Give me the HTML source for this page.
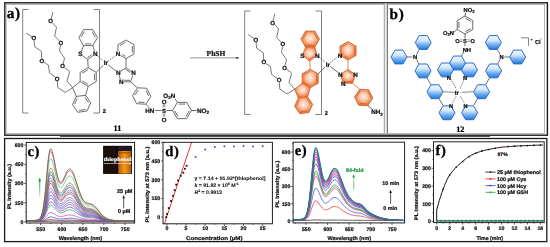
<!DOCTYPE html><html><head><meta charset="utf-8"><title>figure</title><style>html,body{margin:0;padding:0;background:#fff}svg{display:block}</style></head><body><svg width="550" height="247" viewBox="0 0 550 247" text-rendering="geometricPrecision">
<defs>
<radialGradient id="og" cx="50%" cy="45%" r="60%">
<stop offset="0" stop-color="#fdeee5"/><stop offset="0.4" stop-color="#f9c6aa"/><stop offset="0.8" stop-color="#f07a3c"/><stop offset="1" stop-color="#ea5e1c"/>
</radialGradient>
<linearGradient id="bg" x1="0" y1="0" x2="0" y2="1">
<stop offset="0" stop-color="#f0f7ff"/><stop offset="0.35" stop-color="#d6e8fb"/><stop offset="0.7" stop-color="#66a8ee"/><stop offset="1" stop-color="#2079e0"/>
</linearGradient>
<linearGradient id="ga" x1="0" y1="0" x2="0" y2="1">
<stop offset="0" stop-color="#3cb85a"/><stop offset="1" stop-color="#c8f0d0"/>
</linearGradient>
<linearGradient id="vial" x1="0" y1="0" x2="1" y2="0">
<stop offset="0" stop-color="#b85a08"/><stop offset="0.5" stop-color="#f59a18"/><stop offset="1" stop-color="#b85a08"/>
</linearGradient>
</defs>
<rect x="0" y="0" width="550" height="247" fill="#ffffff" stroke="none" stroke-width="1"/>
<rect x="4.8" y="2.8" width="542.6" height="132.4" fill="none" stroke="#1a1a1a" stroke-width="1.4"/>
<rect x="6.2" y="4.5" width="538.3" height="128.9" fill="none" stroke="#a4a4a4" stroke-width="0.8"/>
<line x1="60" y1="136.4" x2="490" y2="136.4" stroke="#3a3a3a" stroke-width="1" stroke-linecap="butt"/>
<rect x="4.6" y="138.5" width="542.2" height="103.1" fill="none" stroke="#1a1a1a" stroke-width="1.3"/>
<rect x="384.3" y="3.8" width="3.1" height="129.6" fill="#ececec" stroke="none" stroke-width="1"/>
<line x1="384.3" y1="3.8" x2="384.3" y2="133.4" stroke="#a0a0a0" stroke-width="1" stroke-linecap="butt"/>
<line x1="387.4" y1="3.8" x2="387.4" y2="133.4" stroke="#7a7a7a" stroke-width="1.2" stroke-linecap="butt"/>
<text x="6.8" y="18.1" font-family="Liberation Serif, Times New Roman, serif" font-size="15.2" font-weight="bold" text-anchor="start" fill="#000" letter-spacing="0.6" stroke="#000" stroke-width="0.3">a)</text>
<text x="389.6" y="18.5" font-family="Liberation Serif, Times New Roman, serif" font-size="15.2" font-weight="bold" text-anchor="start" fill="#000" letter-spacing="0.6" stroke="#000" stroke-width="0.3">b)</text>
<g transform="translate(0,0)">
<line x1="97.5" y1="37.6" x2="92.85" y2="45.65" stroke="#303030" stroke-width="0.7" stroke-linecap="butt"/>
<line x1="92.85" y1="45.65" x2="83.55" y2="45.65" stroke="#303030" stroke-width="0.7" stroke-linecap="butt"/>
<line x1="83.55" y1="45.65" x2="78.9" y2="37.6" stroke="#303030" stroke-width="0.7" stroke-linecap="butt"/>
<line x1="78.9" y1="37.6" x2="83.55" y2="29.55" stroke="#303030" stroke-width="0.7" stroke-linecap="butt"/>
<line x1="83.55" y1="29.55" x2="92.85" y2="29.55" stroke="#303030" stroke-width="0.7" stroke-linecap="butt"/>
<line x1="92.85" y1="29.55" x2="97.5" y2="37.6" stroke="#303030" stroke-width="0.7" stroke-linecap="butt"/>
<line x1="81.07" y1="37.24" x2="84.32" y2="31.61" stroke="#303030" stroke-width="0.7" stroke-linecap="butt"/>
<line x1="92.08" y1="31.61" x2="95.33" y2="37.24" stroke="#303030" stroke-width="0.7" stroke-linecap="butt"/>
<line x1="91.45" y1="43.95" x2="84.95" y2="43.95" stroke="#303030" stroke-width="0.7" stroke-linecap="butt"/>
<line x1="83.55" y1="45.65" x2="81.25" y2="51.48" stroke="#303030" stroke-width="0.7" stroke-linecap="butt"/>
<line x1="92.85" y1="45.65" x2="94.56" y2="51.41" stroke="#303030" stroke-width="0.7" stroke-linecap="butt"/>
<line x1="82.52" y1="55.61" x2="87.7" y2="59.6" stroke="#303030" stroke-width="0.7" stroke-linecap="butt"/>
<line x1="93.06" y1="55.58" x2="87.7" y2="59.6" stroke="#303030" stroke-width="0.7" stroke-linecap="butt"/>
<line x1="91.62" y1="54.66" x2="87.38" y2="57.84" stroke="#303030" stroke-width="0.7" stroke-linecap="butt"/>
<line x1="88.2" y1="67.7" x2="96.25" y2="72.35" stroke="#303030" stroke-width="0.7" stroke-linecap="butt"/>
<line x1="96.25" y1="72.35" x2="96.25" y2="81.65" stroke="#303030" stroke-width="0.7" stroke-linecap="butt"/>
<line x1="96.25" y1="81.65" x2="88.2" y2="86.3" stroke="#303030" stroke-width="0.7" stroke-linecap="butt"/>
<line x1="88.2" y1="86.3" x2="80.15" y2="81.65" stroke="#303030" stroke-width="0.7" stroke-linecap="butt"/>
<line x1="80.15" y1="81.65" x2="80.15" y2="72.35" stroke="#303030" stroke-width="0.7" stroke-linecap="butt"/>
<line x1="80.15" y1="72.35" x2="88.2" y2="67.7" stroke="#303030" stroke-width="0.7" stroke-linecap="butt"/>
<line x1="82.21" y1="73.12" x2="87.84" y2="69.87" stroke="#303030" stroke-width="0.7" stroke-linecap="butt"/>
<line x1="94.55" y1="73.75" x2="94.55" y2="80.25" stroke="#303030" stroke-width="0.7" stroke-linecap="butt"/>
<line x1="87.84" y1="84.13" x2="82.21" y2="80.88" stroke="#303030" stroke-width="0.7" stroke-linecap="butt"/>
<line x1="85.6" y1="95.3" x2="90.7" y2="102.8" stroke="#303030" stroke-width="0.7" stroke-linecap="butt"/>
<line x1="90.7" y1="102.8" x2="87" y2="111" stroke="#303030" stroke-width="0.7" stroke-linecap="butt"/>
<line x1="87" y1="111" x2="77.8" y2="112.3" stroke="#303030" stroke-width="0.7" stroke-linecap="butt"/>
<line x1="77.8" y1="112.3" x2="72.5" y2="104.7" stroke="#303030" stroke-width="0.7" stroke-linecap="butt"/>
<line x1="72.5" y1="104.7" x2="76.3" y2="96.4" stroke="#303030" stroke-width="0.7" stroke-linecap="butt"/>
<line x1="76.3" y1="96.4" x2="85.6" y2="95.3" stroke="#303030" stroke-width="0.7" stroke-linecap="butt"/>
<line x1="84.98" y1="97.41" x2="88.51" y2="102.6" stroke="#303030" stroke-width="0.7" stroke-linecap="butt"/>
<line x1="85.38" y1="109.51" x2="78.95" y2="110.42" stroke="#303030" stroke-width="0.7" stroke-linecap="butt"/>
<line x1="74.63" y1="104.13" x2="77.26" y2="98.38" stroke="#303030" stroke-width="0.7" stroke-linecap="butt"/>
<line x1="88.2" y1="86.3" x2="85.6" y2="95.3" stroke="#303030" stroke-width="0.7" stroke-linecap="butt"/>
<line x1="76.3" y1="96.4" x2="72.6" y2="87.7" stroke="#303030" stroke-width="0.7" stroke-linecap="butt"/>
<line x1="72.6" y1="87.7" x2="80.15" y2="81.65" stroke="#303030" stroke-width="0.7" stroke-linecap="butt"/>
<line x1="87.7" y1="59.6" x2="88.2" y2="67.7" stroke="#303030" stroke-width="0.7" stroke-linecap="butt"/>
<line x1="72.6" y1="87.7" x2="65.2" y2="92.4" stroke="#303030" stroke-width="0.65" stroke-linecap="butt"/>
<line x1="65.2" y1="92.4" x2="57.8" y2="87.6" stroke="#303030" stroke-width="0.65" stroke-linecap="butt"/>
<line x1="57.8" y1="87.6" x2="57.35" y2="80.99" stroke="#303030" stroke-width="0.65" stroke-linecap="butt"/>
<line x1="55.38" y1="77.29" x2="49.6" y2="72.8" stroke="#303030" stroke-width="0.65" stroke-linecap="butt"/>
<line x1="49.6" y1="72.8" x2="48.3" y2="65" stroke="#303030" stroke-width="0.65" stroke-linecap="butt"/>
<line x1="48.3" y1="65" x2="43.72" y2="61.97" stroke="#303030" stroke-width="0.65" stroke-linecap="butt"/>
<line x1="41.7" y1="58.4" x2="41.4" y2="51.4" stroke="#303030" stroke-width="0.65" stroke-linecap="butt"/>
<line x1="41.4" y1="51.4" x2="34.6" y2="46.6" stroke="#303030" stroke-width="0.65" stroke-linecap="butt"/>
<line x1="34.6" y1="46.6" x2="34.09" y2="40.39" stroke="#303030" stroke-width="0.65" stroke-linecap="butt"/>
<line x1="31.97" y1="36.85" x2="26.2" y2="33.1" stroke="#303030" stroke-width="0.65" stroke-linecap="butt"/>
<text x="57.2" y="80.86" font-family="Liberation Sans, Arial, sans-serif" font-size="6" font-weight="bold" text-anchor="middle" fill="#111" stroke="#111" stroke-width="0.22">O</text>
<text x="41.8" y="62.86" font-family="Liberation Sans, Arial, sans-serif" font-size="6" font-weight="bold" text-anchor="middle" fill="#111" stroke="#111" stroke-width="0.22">O</text>
<text x="33.9" y="40.26" font-family="Liberation Sans, Arial, sans-serif" font-size="6" font-weight="bold" text-anchor="middle" fill="#111" stroke="#111" stroke-width="0.22">O</text>
<line x1="72.6" y1="87.7" x2="67" y2="81" stroke="#303030" stroke-width="0.65" stroke-linecap="butt"/>
<line x1="67" y1="81" x2="69.7" y2="71.6" stroke="#303030" stroke-width="0.65" stroke-linecap="butt"/>
<line x1="69.7" y1="71.6" x2="64.43" y2="67.59" stroke="#303030" stroke-width="0.65" stroke-linecap="butt"/>
<line x1="63.13" y1="63.96" x2="64.5" y2="58.1" stroke="#303030" stroke-width="0.65" stroke-linecap="butt"/>
<line x1="64.5" y1="58.1" x2="59.5" y2="51" stroke="#303030" stroke-width="0.65" stroke-linecap="butt"/>
<line x1="59.5" y1="51" x2="60.53" y2="44.77" stroke="#303030" stroke-width="0.65" stroke-linecap="butt"/>
<line x1="59.3" y1="40.85" x2="54.7" y2="36.1" stroke="#303030" stroke-width="0.65" stroke-linecap="butt"/>
<line x1="54.7" y1="36.1" x2="56.5" y2="27.2" stroke="#303030" stroke-width="0.65" stroke-linecap="butt"/>
<line x1="56.5" y1="27.2" x2="52.19" y2="22.67" stroke="#303030" stroke-width="0.65" stroke-linecap="butt"/>
<line x1="51.18" y1="18.77" x2="52.9" y2="12.1" stroke="#303030" stroke-width="0.65" stroke-linecap="butt"/>
<text x="62.6" y="68.36" font-family="Liberation Sans, Arial, sans-serif" font-size="6" font-weight="bold" text-anchor="middle" fill="#111" stroke="#111" stroke-width="0.22">O</text>
<text x="60.9" y="44.66" font-family="Liberation Sans, Arial, sans-serif" font-size="6" font-weight="bold" text-anchor="middle" fill="#111" stroke="#111" stroke-width="0.22">O</text>
<text x="50.6" y="23.16" font-family="Liberation Sans, Arial, sans-serif" font-size="6" font-weight="bold" text-anchor="middle" fill="#111" stroke="#111" stroke-width="0.22">O</text>
<line x1="97.57" y1="55.86" x2="103.18" y2="60.71" stroke="#303030" stroke-width="0.7" stroke-dasharray="1.3,0.9" stroke-linecap="butt"/>
<line x1="96.25" y1="72.35" x2="103.08" y2="65.37" stroke="#303030" stroke-width="0.7" stroke-linecap="butt"/>
<line x1="126" y1="40" x2="134.05" y2="44.65" stroke="#303030" stroke-width="0.7" stroke-linecap="butt"/>
<line x1="134.05" y1="44.65" x2="134.05" y2="53.95" stroke="#303030" stroke-width="0.7" stroke-linecap="butt"/>
<line x1="134.05" y1="53.95" x2="126" y2="58.6" stroke="#303030" stroke-width="0.7" stroke-linecap="butt"/>
<line x1="126" y1="58.6" x2="120.28" y2="55.3" stroke="#303030" stroke-width="0.7" stroke-linecap="butt"/>
<line x1="117.95" y1="51.25" x2="117.95" y2="44.65" stroke="#303030" stroke-width="0.7" stroke-linecap="butt"/>
<line x1="117.95" y1="44.65" x2="126" y2="40" stroke="#303030" stroke-width="0.7" stroke-linecap="butt"/>
<line x1="120.01" y1="45.42" x2="125.64" y2="42.17" stroke="#303030" stroke-width="0.7" stroke-linecap="butt"/>
<line x1="132.35" y1="46.05" x2="132.35" y2="52.55" stroke="#303030" stroke-width="0.7" stroke-linecap="butt"/>
<line x1="125.64" y1="56.43" x2="122.35" y2="54.53" stroke="#303030" stroke-width="0.7" stroke-linecap="butt"/>
<line x1="108.2" y1="60.94" x2="115.51" y2="55.7" stroke="#303030" stroke-width="0.7" stroke-dasharray="1.3,0.9" stroke-linecap="butt"/>
<line x1="126" y1="67.9" x2="131.44" y2="71.55" stroke="#303030" stroke-width="0.7" stroke-linecap="butt"/>
<line x1="132.76" y1="75.46" x2="130.6" y2="81.8" stroke="#303030" stroke-width="0.7" stroke-linecap="butt"/>
<line x1="130.6" y1="81.8" x2="123.8" y2="81.8" stroke="#303030" stroke-width="0.7" stroke-linecap="butt"/>
<line x1="120.4" y1="79.33" x2="119.1" y2="75.27" stroke="#303030" stroke-width="0.7" stroke-linecap="butt"/>
<line x1="120.49" y1="71.4" x2="126" y2="67.9" stroke="#303030" stroke-width="0.7" stroke-linecap="butt"/>
<line x1="125.66" y1="69.48" x2="130.11" y2="72.46" stroke="#303030" stroke-width="0.7" stroke-linecap="butt"/>
<line x1="130" y1="80.3" x2="124.4" y2="80.3" stroke="#303030" stroke-width="0.7" stroke-linecap="butt"/>
<line x1="126" y1="58.6" x2="126" y2="67.9" stroke="#303030" stroke-width="0.7" stroke-linecap="butt"/>
<line x1="108.27" y1="64.9" x2="116.1" y2="71.07" stroke="#303030" stroke-width="0.7" stroke-linecap="butt"/>
<line x1="150.89" y1="96.48" x2="145.88" y2="104.2" stroke="#303030" stroke-width="0.7" stroke-linecap="butt"/>
<line x1="145.88" y1="104.2" x2="136.69" y2="103.72" stroke="#303030" stroke-width="0.7" stroke-linecap="butt"/>
<line x1="136.69" y1="103.72" x2="132.51" y2="95.52" stroke="#303030" stroke-width="0.7" stroke-linecap="butt"/>
<line x1="132.51" y1="95.52" x2="137.52" y2="87.8" stroke="#303030" stroke-width="0.7" stroke-linecap="butt"/>
<line x1="137.52" y1="87.8" x2="146.71" y2="88.28" stroke="#303030" stroke-width="0.7" stroke-linecap="butt"/>
<line x1="146.71" y1="88.28" x2="150.89" y2="96.48" stroke="#303030" stroke-width="0.7" stroke-linecap="butt"/>
<line x1="145.83" y1="90.3" x2="148.74" y2="96.01" stroke="#303030" stroke-width="0.7" stroke-linecap="butt"/>
<line x1="144.57" y1="102.43" x2="138.18" y2="102.09" stroke="#303030" stroke-width="0.7" stroke-linecap="butt"/>
<line x1="134.7" y1="95.27" x2="138.19" y2="89.9" stroke="#303030" stroke-width="0.7" stroke-linecap="butt"/>
<line x1="130.6" y1="81.8" x2="137.52" y2="87.8" stroke="#303030" stroke-width="0.7" stroke-linecap="butt"/>
<text x="80.3" y="56.17" font-family="Liberation Sans, Arial, sans-serif" font-size="6.3" font-weight="bold" text-anchor="middle" fill="#111" stroke="#111" stroke-width="0.22">S</text>
<text x="95.3" y="56.17" font-family="Liberation Sans, Arial, sans-serif" font-size="6.3" font-weight="bold" text-anchor="middle" fill="#111" stroke="#111" stroke-width="0.22">N</text>
<text x="105.9" y="65.1" font-family="Liberation Sans, Arial, sans-serif" font-size="6.4" font-weight="bold" text-anchor="middle" fill="#111" stroke="#111" stroke-width="0.22">Ir</text>
<text x="117.95" y="56.22" font-family="Liberation Sans, Arial, sans-serif" font-size="6.3" font-weight="bold" text-anchor="middle" fill="#111" stroke="#111" stroke-width="0.22">N</text>
<text x="133.6" y="75.27" font-family="Liberation Sans, Arial, sans-serif" font-size="6.3" font-weight="bold" text-anchor="middle" fill="#111" stroke="#111" stroke-width="0.22">N</text>
<text x="121.2" y="84.07" font-family="Liberation Sans, Arial, sans-serif" font-size="6.3" font-weight="bold" text-anchor="middle" fill="#111" stroke="#111" stroke-width="0.22">N</text>
<text x="118.3" y="75.07" font-family="Liberation Sans, Arial, sans-serif" font-size="6.3" font-weight="bold" text-anchor="middle" fill="#111" stroke="#111" stroke-width="0.22">N</text>
<polyline points="28.5,9.5 22.7,9.5 22.7,113 28.5,113" fill="none" stroke="#555" stroke-width="0.75" stroke-linejoin="round"/>
<polyline points="93.5,9.5 99.5,9.5 99.5,113 93.3,113" fill="none" stroke="#555" stroke-width="0.75" stroke-linejoin="round"/>
<text x="104.3" y="113.29" font-family="Liberation Sans, Arial, sans-serif" font-size="5.8" font-weight="bold" text-anchor="middle" fill="#111" stroke="#111" stroke-width="0.22">2</text>
</g>
<line x1="145.88" y1="104.2" x2="149.83" y2="108.33" stroke="#303030" stroke-width="0.7" stroke-linecap="butt"/>
<text x="154.4" y="112.75" font-family="Liberation Sans, Arial, sans-serif" font-size="6.3" font-weight="bold" text-anchor="end" fill="#111" stroke="#111" stroke-width="0.22">HN</text>
<line x1="154.9" y1="110.5" x2="161.6" y2="110.5" stroke="#303030" stroke-width="0.7" stroke-linecap="butt"/>
<text x="164" y="112.66" font-family="Liberation Sans, Arial, sans-serif" font-size="6" font-weight="bold" text-anchor="middle" fill="#111" stroke="#111" stroke-width="0.22">S</text>
<text x="164" y="103.6" font-family="Liberation Sans, Arial, sans-serif" font-size="6.1" font-weight="bold" text-anchor="middle" fill="#111" stroke="#111" stroke-width="0.22">O</text>
<line x1="163.2" y1="107.2" x2="163.2" y2="104.4" stroke="#303030" stroke-width="0.6" stroke-linecap="butt"/>
<line x1="164.8" y1="107.2" x2="164.8" y2="104.4" stroke="#303030" stroke-width="0.6" stroke-linecap="butt"/>
<text x="164" y="121.8" font-family="Liberation Sans, Arial, sans-serif" font-size="6.1" font-weight="bold" text-anchor="middle" fill="#111" stroke="#111" stroke-width="0.22">O</text>
<line x1="163.2" y1="113.8" x2="163.2" y2="116.6" stroke="#303030" stroke-width="0.6" stroke-linecap="butt"/>
<line x1="164.8" y1="113.8" x2="164.8" y2="116.6" stroke="#303030" stroke-width="0.6" stroke-linecap="butt"/>
<line x1="191.4" y1="110.5" x2="186.7" y2="118.64" stroke="#2a2a2a" stroke-width="0.7" stroke-linecap="butt"/>
<line x1="186.7" y1="118.64" x2="177.3" y2="118.64" stroke="#2a2a2a" stroke-width="0.7" stroke-linecap="butt"/>
<line x1="177.3" y1="118.64" x2="172.6" y2="110.5" stroke="#2a2a2a" stroke-width="0.7" stroke-linecap="butt"/>
<line x1="172.6" y1="110.5" x2="177.3" y2="102.36" stroke="#2a2a2a" stroke-width="0.7" stroke-linecap="butt"/>
<line x1="177.3" y1="102.36" x2="186.7" y2="102.36" stroke="#2a2a2a" stroke-width="0.7" stroke-linecap="butt"/>
<line x1="186.7" y1="102.36" x2="191.4" y2="110.5" stroke="#2a2a2a" stroke-width="0.7" stroke-linecap="butt"/>
<line x1="178.7" y1="104.06" x2="185.3" y2="104.06" stroke="#2a2a2a" stroke-width="0.7" stroke-linecap="butt"/>
<line x1="189.23" y1="110.86" x2="185.93" y2="116.58" stroke="#2a2a2a" stroke-width="0.7" stroke-linecap="butt"/>
<line x1="178.07" y1="116.58" x2="174.77" y2="110.86" stroke="#2a2a2a" stroke-width="0.7" stroke-linecap="butt"/>
<line x1="166.4" y1="110.5" x2="172.6" y2="110.5" stroke="#2a2a2a" stroke-width="0.7" stroke-linecap="butt"/>
<line x1="177.3" y1="102.36" x2="175.2" y2="98.9" stroke="#2a2a2a" stroke-width="0.7" stroke-linecap="butt"/>
<text x="175.3" y="97.7" font-family="Liberation Sans, Arial, sans-serif" font-size="6.3" font-weight="bold" text-anchor="end" fill="#111" stroke="#111" stroke-width="0.22">O<tspan font-size="4.5" dy="1.3">2</tspan><tspan dy="-1.3" font-size="6.3">N</tspan></text>
<line x1="191.4" y1="110.5" x2="196.6" y2="110.5" stroke="#2a2a2a" stroke-width="0.7" stroke-linecap="butt"/>
<text x="197" y="112.75" font-family="Liberation Sans, Arial, sans-serif" font-size="6.3" font-weight="bold" text-anchor="start" fill="#111" stroke="#111" stroke-width="0.22">NO<tspan font-size="4.5" dy="1.3">2</tspan></text>
<text x="117.4" y="131.3" font-family="Liberation Serif, Times New Roman, serif" font-size="8.3" font-weight="bold" text-anchor="middle" fill="#000" stroke="#000" stroke-width="0.22">11</text>
<line x1="190.2" y1="57.9" x2="237" y2="57.9" stroke="#666" stroke-width="0.7" stroke-linecap="butt"/>
<polygon points="239.5,57.9 236.3,56.8 236.3,59" fill="#222" stroke="none" stroke-width="0" stroke-linejoin="round"/>
<text x="216" y="56.2" font-family="Liberation Serif, Times New Roman, serif" font-size="7.5" font-weight="bold" text-anchor="middle" fill="#111" stroke="#111" stroke-width="0.22">PhSH</text>
<g transform="translate(222,1.5)">
<polygon points="83.55,45.65 92.85,45.65 95.3,53.9 87.7,59.6 80.3,53.9" fill="url(#og)" stroke="none" stroke-width="0" stroke-linejoin="round"/>
<polygon points="97.5,37.6 92.85,45.65 83.55,45.65 78.9,37.6 83.55,29.55 92.85,29.55" fill="url(#og)" stroke="none" stroke-width="0" stroke-linejoin="round"/>
<line x1="97.5" y1="37.6" x2="92.85" y2="45.65" stroke="#c8541c" stroke-width="0.7" stroke-linecap="butt"/>
<line x1="92.85" y1="45.65" x2="83.55" y2="45.65" stroke="#c8541c" stroke-width="0.7" stroke-linecap="butt"/>
<line x1="83.55" y1="45.65" x2="78.9" y2="37.6" stroke="#c8541c" stroke-width="0.7" stroke-linecap="butt"/>
<line x1="78.9" y1="37.6" x2="83.55" y2="29.55" stroke="#c8541c" stroke-width="0.7" stroke-linecap="butt"/>
<line x1="83.55" y1="29.55" x2="92.85" y2="29.55" stroke="#c8541c" stroke-width="0.7" stroke-linecap="butt"/>
<line x1="92.85" y1="29.55" x2="97.5" y2="37.6" stroke="#c8541c" stroke-width="0.7" stroke-linecap="butt"/>
<line x1="81.07" y1="37.24" x2="84.32" y2="31.61" stroke="#c8541c" stroke-width="0.7" stroke-linecap="butt"/>
<line x1="92.08" y1="31.61" x2="95.33" y2="37.24" stroke="#c8541c" stroke-width="0.7" stroke-linecap="butt"/>
<line x1="91.45" y1="43.95" x2="84.95" y2="43.95" stroke="#c8541c" stroke-width="0.7" stroke-linecap="butt"/>
<line x1="83.55" y1="45.65" x2="81.25" y2="51.48" stroke="#c8541c" stroke-width="0.7" stroke-linecap="butt"/>
<line x1="92.85" y1="45.65" x2="94.56" y2="51.41" stroke="#c8541c" stroke-width="0.7" stroke-linecap="butt"/>
<line x1="82.52" y1="55.61" x2="87.7" y2="59.6" stroke="#c8541c" stroke-width="0.7" stroke-linecap="butt"/>
<line x1="93.06" y1="55.58" x2="87.7" y2="59.6" stroke="#c8541c" stroke-width="0.7" stroke-linecap="butt"/>
<line x1="91.62" y1="54.66" x2="87.38" y2="57.84" stroke="#c8541c" stroke-width="0.7" stroke-linecap="butt"/>
<polygon points="80.15,81.65 88.2,86.3 85.6,95.3 76.3,96.4 72.6,87.7" fill="url(#og)" stroke="none" stroke-width="0" stroke-linejoin="round"/>
<polygon points="88.2,67.7 96.25,72.35 96.25,81.65 88.2,86.3 80.15,81.65 80.15,72.35" fill="url(#og)" stroke="none" stroke-width="0" stroke-linejoin="round"/>
<line x1="88.2" y1="67.7" x2="96.25" y2="72.35" stroke="#c8541c" stroke-width="0.7" stroke-linecap="butt"/>
<line x1="96.25" y1="72.35" x2="96.25" y2="81.65" stroke="#c8541c" stroke-width="0.7" stroke-linecap="butt"/>
<line x1="96.25" y1="81.65" x2="88.2" y2="86.3" stroke="#c8541c" stroke-width="0.7" stroke-linecap="butt"/>
<line x1="88.2" y1="86.3" x2="80.15" y2="81.65" stroke="#c8541c" stroke-width="0.7" stroke-linecap="butt"/>
<line x1="80.15" y1="81.65" x2="80.15" y2="72.35" stroke="#c8541c" stroke-width="0.7" stroke-linecap="butt"/>
<line x1="80.15" y1="72.35" x2="88.2" y2="67.7" stroke="#c8541c" stroke-width="0.7" stroke-linecap="butt"/>
<line x1="82.21" y1="73.12" x2="87.84" y2="69.87" stroke="#c8541c" stroke-width="0.7" stroke-linecap="butt"/>
<line x1="94.55" y1="73.75" x2="94.55" y2="80.25" stroke="#c8541c" stroke-width="0.7" stroke-linecap="butt"/>
<line x1="87.84" y1="84.13" x2="82.21" y2="80.88" stroke="#c8541c" stroke-width="0.7" stroke-linecap="butt"/>
<polygon points="85.6,95.3 90.7,102.8 87,111 77.8,112.3 72.5,104.7 76.3,96.4" fill="url(#og)" stroke="none" stroke-width="0" stroke-linejoin="round"/>
<line x1="85.6" y1="95.3" x2="90.7" y2="102.8" stroke="#c8541c" stroke-width="0.7" stroke-linecap="butt"/>
<line x1="90.7" y1="102.8" x2="87" y2="111" stroke="#c8541c" stroke-width="0.7" stroke-linecap="butt"/>
<line x1="87" y1="111" x2="77.8" y2="112.3" stroke="#c8541c" stroke-width="0.7" stroke-linecap="butt"/>
<line x1="77.8" y1="112.3" x2="72.5" y2="104.7" stroke="#c8541c" stroke-width="0.7" stroke-linecap="butt"/>
<line x1="72.5" y1="104.7" x2="76.3" y2="96.4" stroke="#c8541c" stroke-width="0.7" stroke-linecap="butt"/>
<line x1="76.3" y1="96.4" x2="85.6" y2="95.3" stroke="#c8541c" stroke-width="0.7" stroke-linecap="butt"/>
<line x1="84.98" y1="97.41" x2="88.51" y2="102.6" stroke="#c8541c" stroke-width="0.7" stroke-linecap="butt"/>
<line x1="85.38" y1="109.51" x2="78.95" y2="110.42" stroke="#c8541c" stroke-width="0.7" stroke-linecap="butt"/>
<line x1="74.63" y1="104.13" x2="77.26" y2="98.38" stroke="#c8541c" stroke-width="0.7" stroke-linecap="butt"/>
<line x1="88.2" y1="86.3" x2="85.6" y2="95.3" stroke="#c8541c" stroke-width="0.7" stroke-linecap="butt"/>
<line x1="76.3" y1="96.4" x2="72.6" y2="87.7" stroke="#c8541c" stroke-width="0.7" stroke-linecap="butt"/>
<line x1="72.6" y1="87.7" x2="80.15" y2="81.65" stroke="#c8541c" stroke-width="0.7" stroke-linecap="butt"/>
<line x1="87.7" y1="59.6" x2="88.2" y2="67.7" stroke="#c8541c" stroke-width="0.7" stroke-linecap="butt"/>
<line x1="72.6" y1="87.7" x2="65.2" y2="92.4" stroke="#303030" stroke-width="0.65" stroke-linecap="butt"/>
<line x1="65.2" y1="92.4" x2="57.8" y2="87.6" stroke="#303030" stroke-width="0.65" stroke-linecap="butt"/>
<line x1="57.8" y1="87.6" x2="57.35" y2="80.99" stroke="#303030" stroke-width="0.65" stroke-linecap="butt"/>
<line x1="55.38" y1="77.29" x2="49.6" y2="72.8" stroke="#303030" stroke-width="0.65" stroke-linecap="butt"/>
<line x1="49.6" y1="72.8" x2="48.3" y2="65" stroke="#303030" stroke-width="0.65" stroke-linecap="butt"/>
<line x1="48.3" y1="65" x2="43.72" y2="61.97" stroke="#303030" stroke-width="0.65" stroke-linecap="butt"/>
<line x1="41.7" y1="58.4" x2="41.4" y2="51.4" stroke="#303030" stroke-width="0.65" stroke-linecap="butt"/>
<line x1="41.4" y1="51.4" x2="34.6" y2="46.6" stroke="#303030" stroke-width="0.65" stroke-linecap="butt"/>
<line x1="34.6" y1="46.6" x2="34.09" y2="40.39" stroke="#303030" stroke-width="0.65" stroke-linecap="butt"/>
<line x1="31.97" y1="36.85" x2="26.2" y2="33.1" stroke="#303030" stroke-width="0.65" stroke-linecap="butt"/>
<text x="57.2" y="80.86" font-family="Liberation Sans, Arial, sans-serif" font-size="6" font-weight="bold" text-anchor="middle" fill="#111" stroke="#111" stroke-width="0.22">O</text>
<text x="41.8" y="62.86" font-family="Liberation Sans, Arial, sans-serif" font-size="6" font-weight="bold" text-anchor="middle" fill="#111" stroke="#111" stroke-width="0.22">O</text>
<text x="33.9" y="40.26" font-family="Liberation Sans, Arial, sans-serif" font-size="6" font-weight="bold" text-anchor="middle" fill="#111" stroke="#111" stroke-width="0.22">O</text>
<line x1="72.6" y1="87.7" x2="67" y2="81" stroke="#303030" stroke-width="0.65" stroke-linecap="butt"/>
<line x1="67" y1="81" x2="69.7" y2="71.6" stroke="#303030" stroke-width="0.65" stroke-linecap="butt"/>
<line x1="69.7" y1="71.6" x2="64.43" y2="67.59" stroke="#303030" stroke-width="0.65" stroke-linecap="butt"/>
<line x1="63.13" y1="63.96" x2="64.5" y2="58.1" stroke="#303030" stroke-width="0.65" stroke-linecap="butt"/>
<line x1="64.5" y1="58.1" x2="59.5" y2="51" stroke="#303030" stroke-width="0.65" stroke-linecap="butt"/>
<line x1="59.5" y1="51" x2="60.53" y2="44.77" stroke="#303030" stroke-width="0.65" stroke-linecap="butt"/>
<line x1="59.3" y1="40.85" x2="54.7" y2="36.1" stroke="#303030" stroke-width="0.65" stroke-linecap="butt"/>
<line x1="54.7" y1="36.1" x2="56.5" y2="27.2" stroke="#303030" stroke-width="0.65" stroke-linecap="butt"/>
<line x1="56.5" y1="27.2" x2="52.19" y2="22.67" stroke="#303030" stroke-width="0.65" stroke-linecap="butt"/>
<line x1="51.18" y1="18.77" x2="52.9" y2="12.1" stroke="#303030" stroke-width="0.65" stroke-linecap="butt"/>
<text x="62.6" y="68.36" font-family="Liberation Sans, Arial, sans-serif" font-size="6" font-weight="bold" text-anchor="middle" fill="#111" stroke="#111" stroke-width="0.22">O</text>
<text x="60.9" y="44.66" font-family="Liberation Sans, Arial, sans-serif" font-size="6" font-weight="bold" text-anchor="middle" fill="#111" stroke="#111" stroke-width="0.22">O</text>
<text x="50.6" y="23.16" font-family="Liberation Sans, Arial, sans-serif" font-size="6" font-weight="bold" text-anchor="middle" fill="#111" stroke="#111" stroke-width="0.22">O</text>
<line x1="97.57" y1="55.86" x2="103.18" y2="60.71" stroke="#303030" stroke-width="0.7" stroke-dasharray="1.3,0.9" stroke-linecap="butt"/>
<line x1="96.25" y1="72.35" x2="103.08" y2="65.37" stroke="#303030" stroke-width="0.7" stroke-linecap="butt"/>
<polygon points="126,40 134.05,44.65 134.05,53.95 126,58.6 117.95,53.95 117.95,44.65" fill="url(#og)" stroke="none" stroke-width="0" stroke-linejoin="round"/>
<line x1="126" y1="40" x2="134.05" y2="44.65" stroke="#c8541c" stroke-width="0.7" stroke-linecap="butt"/>
<line x1="134.05" y1="44.65" x2="134.05" y2="53.95" stroke="#c8541c" stroke-width="0.7" stroke-linecap="butt"/>
<line x1="134.05" y1="53.95" x2="126" y2="58.6" stroke="#c8541c" stroke-width="0.7" stroke-linecap="butt"/>
<line x1="126" y1="58.6" x2="120.28" y2="55.3" stroke="#c8541c" stroke-width="0.7" stroke-linecap="butt"/>
<line x1="117.95" y1="51.25" x2="117.95" y2="44.65" stroke="#c8541c" stroke-width="0.7" stroke-linecap="butt"/>
<line x1="117.95" y1="44.65" x2="126" y2="40" stroke="#c8541c" stroke-width="0.7" stroke-linecap="butt"/>
<line x1="120.01" y1="45.42" x2="125.64" y2="42.17" stroke="#c8541c" stroke-width="0.7" stroke-linecap="butt"/>
<line x1="132.35" y1="46.05" x2="132.35" y2="52.55" stroke="#c8541c" stroke-width="0.7" stroke-linecap="butt"/>
<line x1="125.64" y1="56.43" x2="122.35" y2="54.53" stroke="#c8541c" stroke-width="0.7" stroke-linecap="butt"/>
<line x1="108.2" y1="60.94" x2="115.51" y2="55.7" stroke="#303030" stroke-width="0.7" stroke-dasharray="1.3,0.9" stroke-linecap="butt"/>
<polygon points="126,67.9 133.6,73 130.6,81.8 121.2,81.8 118.3,72.8" fill="url(#og)" stroke="none" stroke-width="0" stroke-linejoin="round"/>
<line x1="126" y1="67.9" x2="131.44" y2="71.55" stroke="#c8541c" stroke-width="0.7" stroke-linecap="butt"/>
<line x1="132.76" y1="75.46" x2="130.6" y2="81.8" stroke="#c8541c" stroke-width="0.7" stroke-linecap="butt"/>
<line x1="130.6" y1="81.8" x2="123.8" y2="81.8" stroke="#c8541c" stroke-width="0.7" stroke-linecap="butt"/>
<line x1="120.4" y1="79.33" x2="119.1" y2="75.27" stroke="#c8541c" stroke-width="0.7" stroke-linecap="butt"/>
<line x1="120.49" y1="71.4" x2="126" y2="67.9" stroke="#c8541c" stroke-width="0.7" stroke-linecap="butt"/>
<line x1="125.66" y1="69.48" x2="130.11" y2="72.46" stroke="#c8541c" stroke-width="0.7" stroke-linecap="butt"/>
<line x1="130" y1="80.3" x2="124.4" y2="80.3" stroke="#c8541c" stroke-width="0.7" stroke-linecap="butt"/>
<line x1="126" y1="58.6" x2="126" y2="67.9" stroke="#c8541c" stroke-width="0.7" stroke-linecap="butt"/>
<line x1="108.27" y1="64.9" x2="116.1" y2="71.07" stroke="#303030" stroke-width="0.7" stroke-linecap="butt"/>
<polygon points="150.89,96.48 145.88,104.2 136.69,103.72 132.51,95.52 137.52,87.8 146.71,88.28" fill="url(#og)" stroke="none" stroke-width="0" stroke-linejoin="round"/>
<line x1="150.89" y1="96.48" x2="145.88" y2="104.2" stroke="#c8541c" stroke-width="0.7" stroke-linecap="butt"/>
<line x1="145.88" y1="104.2" x2="136.69" y2="103.72" stroke="#c8541c" stroke-width="0.7" stroke-linecap="butt"/>
<line x1="136.69" y1="103.72" x2="132.51" y2="95.52" stroke="#c8541c" stroke-width="0.7" stroke-linecap="butt"/>
<line x1="132.51" y1="95.52" x2="137.52" y2="87.8" stroke="#c8541c" stroke-width="0.7" stroke-linecap="butt"/>
<line x1="137.52" y1="87.8" x2="146.71" y2="88.28" stroke="#c8541c" stroke-width="0.7" stroke-linecap="butt"/>
<line x1="146.71" y1="88.28" x2="150.89" y2="96.48" stroke="#c8541c" stroke-width="0.7" stroke-linecap="butt"/>
<line x1="145.83" y1="90.3" x2="148.74" y2="96.01" stroke="#c8541c" stroke-width="0.7" stroke-linecap="butt"/>
<line x1="144.57" y1="102.43" x2="138.18" y2="102.09" stroke="#c8541c" stroke-width="0.7" stroke-linecap="butt"/>
<line x1="134.7" y1="95.27" x2="138.19" y2="89.9" stroke="#c8541c" stroke-width="0.7" stroke-linecap="butt"/>
<line x1="130.6" y1="81.8" x2="137.52" y2="87.8" stroke="#c8541c" stroke-width="0.7" stroke-linecap="butt"/>
<text x="80.3" y="56.17" font-family="Liberation Sans, Arial, sans-serif" font-size="6.3" font-weight="bold" text-anchor="middle" fill="#111" stroke="#111" stroke-width="0.22">S</text>
<text x="95.3" y="56.17" font-family="Liberation Sans, Arial, sans-serif" font-size="6.3" font-weight="bold" text-anchor="middle" fill="#111" stroke="#111" stroke-width="0.22">N</text>
<text x="105.9" y="65.1" font-family="Liberation Sans, Arial, sans-serif" font-size="6.4" font-weight="bold" text-anchor="middle" fill="#111" stroke="#111" stroke-width="0.22">Ir</text>
<text x="117.95" y="56.22" font-family="Liberation Sans, Arial, sans-serif" font-size="6.3" font-weight="bold" text-anchor="middle" fill="#111" stroke="#111" stroke-width="0.22">N</text>
<text x="133.6" y="75.27" font-family="Liberation Sans, Arial, sans-serif" font-size="6.3" font-weight="bold" text-anchor="middle" fill="#111" stroke="#111" stroke-width="0.22">N</text>
<text x="121.2" y="84.07" font-family="Liberation Sans, Arial, sans-serif" font-size="6.3" font-weight="bold" text-anchor="middle" fill="#111" stroke="#111" stroke-width="0.22">N</text>
<text x="118.3" y="75.07" font-family="Liberation Sans, Arial, sans-serif" font-size="6.3" font-weight="bold" text-anchor="middle" fill="#111" stroke="#111" stroke-width="0.22">N</text>
<polyline points="28.5,9.5 22.7,9.5 22.7,113 28.5,113" fill="none" stroke="#555" stroke-width="0.75" stroke-linejoin="round"/>
<polyline points="93.5,9.5 99.5,9.5 99.5,113 93.3,113" fill="none" stroke="#555" stroke-width="0.75" stroke-linejoin="round"/>
<text x="104.3" y="113.29" font-family="Liberation Sans, Arial, sans-serif" font-size="5.8" font-weight="bold" text-anchor="middle" fill="#111" stroke="#111" stroke-width="0.22">2</text>
</g>
<line x1="367.88" y1="105.7" x2="372.8" y2="109.6" stroke="#303030" stroke-width="0.7" stroke-linecap="butt"/>
<text x="371.2" y="114.4" font-family="Liberation Sans, Arial, sans-serif" font-size="6.3" font-weight="bold" text-anchor="start" fill="#111" stroke="#111" stroke-width="0.22">NH<tspan font-size="4.5" dy="1.3">2</tspan></text>
<line x1="407" y1="57" x2="412.4" y2="57" stroke="#303030" stroke-width="0.7" stroke-linecap="butt"/>
<line x1="419" y1="50.03" x2="416.39" y2="54.57" stroke="#303030" stroke-width="0.7" stroke-linecap="butt"/>
<line x1="419" y1="63.97" x2="416.39" y2="59.43" stroke="#303030" stroke-width="0.7" stroke-linecap="butt"/>
<line x1="427" y1="77.83" x2="431" y2="84.77" stroke="#303030" stroke-width="0.7" stroke-linecap="butt"/>
<line x1="439" y1="98.63" x2="443" y2="105.37" stroke="#303030" stroke-width="0.7" stroke-linecap="butt"/>
<line x1="443" y1="91.7" x2="455.1" y2="92.33" stroke="#555" stroke-width="0.7" stroke-linecap="butt"/>
<line x1="452.28" y1="103.14" x2="456.53" y2="95.63" stroke="#444" stroke-width="0.7" stroke-dasharray="1.3,0.9" stroke-linecap="butt"/>
<polygon points="407,57 403,63.93 395,63.93 391,57 395,50.07 403,50.07" fill="url(#bg)" stroke="#2466c2" stroke-width="0.95" stroke-linejoin="round"/>
<polygon points="431.2,42.5 427.2,49.43 419.2,49.43 415.2,42.5 419.2,35.57 427.2,35.57" fill="url(#bg)" stroke="#2466c2" stroke-width="0.95" stroke-linejoin="round"/>
<polygon points="431,70.9 427,77.83 419,77.83 415,70.9 419,63.97 427,63.97" fill="url(#bg)" stroke="#2466c2" stroke-width="0.95" stroke-linejoin="round"/>
<polygon points="443,91.7 439,98.63 431,98.63 427,91.7 431,84.77 439,84.77" fill="url(#bg)" stroke="#2466c2" stroke-width="0.95" stroke-linejoin="round"/>
<polygon points="455,112.8 451,119.73 443,119.73 439,112.8 443,105.87 451,105.87" fill="url(#bg)" stroke="#2466c2" stroke-width="0.95" stroke-linejoin="round"/>
<text x="415" y="59.09" font-family="Liberation Sans, Arial, sans-serif" font-size="5.8" font-weight="bold" text-anchor="middle" fill="#111" stroke="#111" stroke-width="0.22">N</text>
<text x="451" y="107.62" font-family="Liberation Sans, Arial, sans-serif" font-size="5.6" font-weight="bold" text-anchor="middle" fill="#111" stroke="#111" stroke-width="0.22">N</text>
<line x1="509.6" y1="57" x2="504.2" y2="57" stroke="#303030" stroke-width="0.7" stroke-linecap="butt"/>
<line x1="497.6" y1="50.03" x2="500.21" y2="54.57" stroke="#303030" stroke-width="0.7" stroke-linecap="butt"/>
<line x1="497.6" y1="63.97" x2="500.21" y2="59.43" stroke="#303030" stroke-width="0.7" stroke-linecap="butt"/>
<line x1="489.6" y1="77.83" x2="485.6" y2="84.77" stroke="#303030" stroke-width="0.7" stroke-linecap="butt"/>
<line x1="477.6" y1="98.63" x2="473.6" y2="105.37" stroke="#303030" stroke-width="0.7" stroke-linecap="butt"/>
<line x1="473.6" y1="91.7" x2="461.5" y2="92.33" stroke="#555" stroke-width="0.7" stroke-linecap="butt"/>
<line x1="464.32" y1="103.14" x2="460.07" y2="95.63" stroke="#444" stroke-width="0.7" stroke-dasharray="1.3,0.9" stroke-linecap="butt"/>
<polygon points="525.6,57 521.6,63.93 513.6,63.93 509.6,57 513.6,50.07 521.6,50.07" fill="url(#bg)" stroke="#2466c2" stroke-width="0.95" stroke-linejoin="round"/>
<polygon points="501.4,42.5 497.4,49.43 489.4,49.43 485.4,42.5 489.4,35.57 497.4,35.57" fill="url(#bg)" stroke="#2466c2" stroke-width="0.95" stroke-linejoin="round"/>
<polygon points="501.6,70.9 497.6,77.83 489.6,77.83 485.6,70.9 489.6,63.97 497.6,63.97" fill="url(#bg)" stroke="#2466c2" stroke-width="0.95" stroke-linejoin="round"/>
<polygon points="489.6,91.7 485.6,98.63 477.6,98.63 473.6,91.7 477.6,84.77 485.6,84.77" fill="url(#bg)" stroke="#2466c2" stroke-width="0.95" stroke-linejoin="round"/>
<polygon points="477.6,112.8 473.6,119.73 465.6,119.73 461.6,112.8 465.6,105.87 473.6,105.87" fill="url(#bg)" stroke="#2466c2" stroke-width="0.95" stroke-linejoin="round"/>
<text x="501.6" y="59.09" font-family="Liberation Sans, Arial, sans-serif" font-size="5.8" font-weight="bold" text-anchor="middle" fill="#111" stroke="#111" stroke-width="0.22">N</text>
<text x="465.6" y="107.62" font-family="Liberation Sans, Arial, sans-serif" font-size="5.6" font-weight="bold" text-anchor="middle" fill="#111" stroke="#111" stroke-width="0.22">N</text>
<line x1="450.87" y1="79.24" x2="456.54" y2="89.36" stroke="#444" stroke-width="0.7" stroke-dasharray="1.3,0.9" stroke-linecap="butt"/>
<line x1="464.33" y1="79.35" x2="459.8" y2="89.23" stroke="#444" stroke-width="0.7" stroke-dasharray="1.3,0.9" stroke-linecap="butt"/>
<polygon points="465.5,63 461.5,69.93 453.5,69.93 449.5,63 453.5,56.07 461.5,56.07" fill="url(#bg)" stroke="#2466c2" stroke-width="0.95" stroke-linejoin="round"/>
<polygon points="453.5,69.93 449.5,76.86 441.5,76.86 437.5,69.93 441.5,63 449.5,63" fill="url(#bg)" stroke="#2466c2" stroke-width="0.95" stroke-linejoin="round"/>
<polygon points="477.5,69.93 473.5,76.86 465.5,76.86 461.5,69.93 465.5,63 473.5,63" fill="url(#bg)" stroke="#2466c2" stroke-width="0.95" stroke-linejoin="round"/>
<text x="448.9" y="79.69" font-family="Liberation Sans, Arial, sans-serif" font-size="5.8" font-weight="bold" text-anchor="middle" fill="#111" stroke="#111" stroke-width="0.22">N</text>
<text x="465.1" y="79.69" font-family="Liberation Sans, Arial, sans-serif" font-size="5.8" font-weight="bold" text-anchor="middle" fill="#111" stroke="#111" stroke-width="0.22">N</text>
<text x="456.9" y="94.73" font-family="Liberation Sans, Arial, sans-serif" font-size="6.2" font-weight="bold" text-anchor="middle" fill="#111" stroke="#111" stroke-width="0.22">Ir</text>
<line x1="461.5" y1="56.07" x2="463.79" y2="51.7" stroke="#303030" stroke-width="0.7" stroke-linecap="butt"/>
<text x="462.7" y="51.5" font-family="Liberation Sans, Arial, sans-serif" font-size="5.8" font-weight="bold" text-anchor="start" fill="#111" stroke="#111" stroke-width="0.22">NH</text>
<line x1="465" y1="43.6" x2="465" y2="46.2" stroke="#303030" stroke-width="0.7" stroke-linecap="butt"/>
<text x="465" y="42.79" font-family="Liberation Sans, Arial, sans-serif" font-size="5.8" font-weight="bold" text-anchor="middle" fill="#111" stroke="#111" stroke-width="0.22">S</text>
<text x="457.4" y="42.72" font-family="Liberation Sans, Arial, sans-serif" font-size="5.6" font-weight="bold" text-anchor="middle" fill="#111" stroke="#111" stroke-width="0.22">O</text>
<text x="472.6" y="42.72" font-family="Liberation Sans, Arial, sans-serif" font-size="5.6" font-weight="bold" text-anchor="middle" fill="#111" stroke="#111" stroke-width="0.22">O</text>
<line x1="459.9" y1="39.9" x2="462.4" y2="39.9" stroke="#303030" stroke-width="0.55" stroke-linecap="butt"/>
<line x1="459.9" y1="41.5" x2="462.4" y2="41.5" stroke="#303030" stroke-width="0.55" stroke-linecap="butt"/>
<line x1="467.6" y1="39.9" x2="470.1" y2="39.9" stroke="#303030" stroke-width="0.55" stroke-linecap="butt"/>
<line x1="467.6" y1="41.5" x2="470.1" y2="41.5" stroke="#303030" stroke-width="0.55" stroke-linecap="butt"/>
<line x1="465" y1="16" x2="472.79" y2="20.5" stroke="#2a2a2a" stroke-width="0.7" stroke-linecap="butt"/>
<line x1="472.79" y1="20.5" x2="472.79" y2="29.5" stroke="#2a2a2a" stroke-width="0.7" stroke-linecap="butt"/>
<line x1="472.79" y1="29.5" x2="465" y2="34" stroke="#2a2a2a" stroke-width="0.7" stroke-linecap="butt"/>
<line x1="465" y1="34" x2="457.21" y2="29.5" stroke="#2a2a2a" stroke-width="0.7" stroke-linecap="butt"/>
<line x1="457.21" y1="29.5" x2="457.21" y2="20.5" stroke="#2a2a2a" stroke-width="0.7" stroke-linecap="butt"/>
<line x1="457.21" y1="20.5" x2="465" y2="16" stroke="#2a2a2a" stroke-width="0.7" stroke-linecap="butt"/>
<line x1="465.36" y1="18.17" x2="470.73" y2="21.27" stroke="#2a2a2a" stroke-width="0.7" stroke-linecap="butt"/>
<line x1="470.73" y1="28.73" x2="465.36" y2="31.83" stroke="#2a2a2a" stroke-width="0.7" stroke-linecap="butt"/>
<line x1="458.91" y1="28.1" x2="458.91" y2="21.9" stroke="#2a2a2a" stroke-width="0.7" stroke-linecap="butt"/>
<line x1="465" y1="34" x2="465" y2="38.1" stroke="#2a2a2a" stroke-width="0.7" stroke-linecap="butt"/>
<line x1="465" y1="16" x2="465.6" y2="12.6" stroke="#2a2a2a" stroke-width="0.7" stroke-linecap="butt"/>
<text x="463.6" y="11.9" font-family="Liberation Sans, Arial, sans-serif" font-size="5.8" font-weight="bold" text-anchor="start" fill="#111" stroke="#111" stroke-width="0.22">NO<tspan font-size="4.2" dy="1.2">2</tspan></text>
<line x1="457.21" y1="29.5" x2="453.6" y2="32.4" stroke="#2a2a2a" stroke-width="0.7" stroke-linecap="butt"/>
<text x="454" y="35.2" font-family="Liberation Sans, Arial, sans-serif" font-size="5.8" font-weight="bold" text-anchor="end" fill="#111" stroke="#111" stroke-width="0.22">O<tspan font-size="4.2" dy="1.2">2</tspan><tspan dy="-1.2">N</tspan></text>
<polyline points="520.9,37.8 528.5,37.8 528.5,45.8" fill="none" stroke="#555" stroke-width="0.7" stroke-linejoin="round"/>
<text x="530.4" y="40.6" font-family="Liberation Sans, Arial, sans-serif" font-size="3.6" font-weight="bold" text-anchor="start" fill="#111" stroke="#111" stroke-width="0.05">+</text>
<text x="534.9" y="43.5" font-family="Liberation Sans, Arial, sans-serif" font-size="5.6" font-weight="bold" text-anchor="start" fill="#111" stroke="#111" stroke-width="0.22">Cl</text>
<text x="540.6" y="39.9" font-family="Liberation Sans, Arial, sans-serif" font-size="4" font-weight="bold" text-anchor="start" fill="#111" stroke="#111" stroke-width="0.05">-</text>
<text x="460.3" y="131.6" font-family="Liberation Serif, Times New Roman, serif" font-size="8.3" font-weight="bold" text-anchor="middle" fill="#000" stroke="#000" stroke-width="0.22">12</text>
<clipPath id="cp1"><rect x="26.2" y="142.4" width="108.4" height="80.6"/></clipPath>
<g clip-path="url(#cp1)">
<polyline points="25.71,221.34 26.77,221.34 27.83,221.34 28.89,221.34 29.95,221.34 31.01,221.34 32.07,221.34 33.13,221.34 34.2,221.34 35.26,221.34 36.32,221.34 37.38,221.34 38.44,221.34 39.5,221.33 40.56,221.33 41.62,221.32 42.68,221.31 43.74,221.28 44.8,221.25 45.86,221.21 46.92,221.17 47.98,221.13 49.04,221.1 50.1,221.09 51.16,221.09 52.22,221.09 53.28,221.11 54.34,221.13 55.4,221.15 56.46,221.17 57.52,221.18 58.58,221.2 59.64,221.2 60.7,221.2 61.76,221.2 62.82,221.2 63.88,221.19 64.94,221.18 66,221.17 67.06,221.17 68.12,221.16 69.19,221.16 70.25,221.16 71.31,221.16 72.37,221.17 73.43,221.17 74.49,221.18 75.55,221.19 76.61,221.21 77.67,221.22 78.73,221.23 79.79,221.24 80.85,221.25 81.91,221.26 82.97,221.26 84.03,221.27 85.09,221.27 86.15,221.28 87.21,221.28 88.27,221.28 89.33,221.28 90.39,221.28 91.45,221.28 92.51,221.28 93.57,221.29 94.63,221.29 95.69,221.29 96.75,221.3 97.81,221.3 98.87,221.31 99.93,221.31 100.99,221.32 102.05,221.32 103.12,221.32 104.18,221.33 105.24,221.33 106.3,221.33 107.36,221.33 108.42,221.34 109.48,221.34 110.54,221.34 111.6,221.34 112.66,221.34 113.72,221.34 114.78,221.34 115.84,221.34 116.9,221.34 117.96,221.34 119.02,221.34 120.08,221.34 121.14,221.34 122.2,221.34 123.26,221.34 124.32,221.34 125.38,221.34 126.44,221.34 127.5,221.34 128.56,221.34 129.62,221.34 130.68,221.34 131.74,221.34 132.8,221.34 133.86,221.34 134.92,221.34 135.99,221.34" fill="none" stroke="#111111" stroke-width="0.75" stroke-linejoin="round"/>
<polyline points="25.71,221.34 26.77,221.34 27.83,221.33 28.89,221.33 29.95,221.33 31.01,221.33 32.07,221.33 33.13,221.32 34.2,221.32 35.26,221.32 36.32,221.31 37.38,221.31 38.44,221.3 39.5,221.28 40.56,221.24 41.62,221.18 42.68,221.08 43.74,220.93 44.8,220.71 45.86,220.45 46.92,220.15 47.98,219.87 49.04,219.66 50.1,219.55 51.16,219.55 52.22,219.61 53.28,219.71 54.34,219.84 55.4,219.98 56.46,220.11 57.52,220.23 58.58,220.31 59.64,220.36 60.7,220.38 61.76,220.36 62.82,220.33 63.88,220.27 64.94,220.21 66,220.15 67.06,220.1 68.12,220.07 69.19,220.05 70.25,220.05 71.31,220.06 72.37,220.1 73.43,220.15 74.49,220.22 75.55,220.3 76.61,220.38 77.67,220.47 78.73,220.55 79.79,220.62 80.85,220.69 81.91,220.75 82.97,220.8 84.03,220.84 85.09,220.86 86.15,220.88 87.21,220.89 88.27,220.9 89.33,220.9 90.39,220.91 91.45,220.91 92.51,220.93 93.57,220.94 94.63,220.96 95.69,220.99 96.75,221.02 97.81,221.05 98.87,221.09 99.93,221.12 100.99,221.15 102.05,221.18 103.12,221.21 104.18,221.23 105.24,221.25 106.3,221.27 107.36,221.28 108.42,221.29 109.48,221.3 110.54,221.3 111.6,221.31 112.66,221.31 113.72,221.32 114.78,221.32 115.84,221.33 116.9,221.33 117.96,221.33 119.02,221.33 120.08,221.33 121.14,221.33 122.2,221.34 123.26,221.34 124.32,221.34 125.38,221.34 126.44,221.34 127.5,221.34 128.56,221.34 129.62,221.34 130.68,221.34 131.74,221.34 132.8,221.34 133.86,221.34 134.92,221.34 135.99,221.34" fill="none" stroke="#c03030" stroke-width="0.75" stroke-linejoin="round"/>
<polyline points="25.71,221.33 26.77,221.33 27.83,221.32 28.89,221.32 29.95,221.31 31.01,221.31 32.07,221.31 33.13,221.3 34.2,221.29 35.26,221.28 36.32,221.27 37.38,221.26 38.44,221.23 39.5,221.19 40.56,221.1 41.62,220.96 42.68,220.71 43.74,220.34 44.8,219.82 45.86,219.17 46.92,218.45 47.98,217.77 49.04,217.25 50.1,217 51.16,216.99 52.22,217.12 53.28,217.37 54.34,217.68 55.4,218.03 56.46,218.36 57.52,218.64 58.58,218.84 59.64,218.96 60.7,219 61.76,218.96 62.82,218.87 63.88,218.74 64.94,218.6 66,218.46 67.06,218.33 68.12,218.24 69.19,218.19 70.25,218.19 71.31,218.24 72.37,218.33 73.43,218.46 74.49,218.62 75.55,218.81 76.61,219.01 77.67,219.21 78.73,219.41 79.79,219.6 80.85,219.76 81.91,219.91 82.97,220.02 84.03,220.11 85.09,220.18 86.15,220.22 87.21,220.25 88.27,220.26 89.33,220.27 90.39,220.28 91.45,220.3 92.51,220.33 93.57,220.37 94.63,220.42 95.69,220.49 96.75,220.56 97.81,220.64 98.87,220.73 99.93,220.81 100.99,220.88 102.05,220.95 103.12,221.02 104.18,221.07 105.24,221.12 106.3,221.16 107.36,221.19 108.42,221.21 109.48,221.23 110.54,221.25 111.6,221.26 112.66,221.28 113.72,221.28 114.78,221.29 115.84,221.3 116.9,221.31 117.96,221.31 119.02,221.32 120.08,221.32 121.14,221.32 122.2,221.33 123.26,221.33 124.32,221.33 125.38,221.33 126.44,221.33 127.5,221.34 128.56,221.34 129.62,221.34 130.68,221.34 131.74,221.34 132.8,221.34 133.86,221.34 134.92,221.34 135.99,221.34" fill="none" stroke="#3050d0" stroke-width="0.75" stroke-linejoin="round"/>
<polyline points="25.71,221.31 26.77,221.31 27.83,221.3 28.89,221.29 29.95,221.29 31.01,221.28 32.07,221.27 33.13,221.25 34.2,221.24 35.26,221.22 36.32,221.2 37.38,221.17 38.44,221.12 39.5,221.03 40.56,220.86 41.62,220.56 42.68,220.07 43.74,219.31 44.8,218.25 45.86,216.93 46.92,215.47 47.98,214.09 49.04,213.03 50.1,212.52 51.16,212.51 52.22,212.78 53.28,213.27 54.34,213.92 55.4,214.61 56.46,215.28 57.52,215.85 58.58,216.27 59.64,216.51 60.7,216.59 61.76,216.52 62.82,216.33 63.88,216.07 64.94,215.77 66,215.48 67.06,215.23 68.12,215.05 69.19,214.95 70.25,214.95 71.31,215.04 72.37,215.22 73.43,215.49 74.49,215.82 75.55,216.2 76.61,216.61 77.67,217.02 78.73,217.42 79.79,217.8 80.85,218.14 81.91,218.43 82.97,218.66 84.03,218.84 85.09,218.97 86.15,219.06 87.21,219.12 88.27,219.15 89.33,219.17 90.39,219.19 91.45,219.23 92.51,219.29 93.57,219.37 94.63,219.48 95.69,219.61 96.75,219.76 97.81,219.92 98.87,220.09 99.93,220.26 100.99,220.41 102.05,220.56 103.12,220.68 104.18,220.79 105.24,220.89 106.3,220.96 107.36,221.03 108.42,221.08 109.48,221.12 110.54,221.15 111.6,221.18 112.66,221.21 113.72,221.23 114.78,221.24 115.84,221.26 116.9,221.27 117.96,221.28 119.02,221.29 120.08,221.3 121.14,221.3 122.2,221.31 123.26,221.31 124.32,221.32 125.38,221.32 126.44,221.33 127.5,221.33 128.56,221.33 129.62,221.33 130.68,221.33 131.74,221.34 132.8,221.34 133.86,221.34 134.92,221.34 135.99,221.34" fill="none" stroke="#e040c0" stroke-width="0.75" stroke-linejoin="round"/>
<polyline points="25.71,221.29 26.77,221.28 27.83,221.27 28.89,221.26 29.95,221.24 31.01,221.22 32.07,221.21 33.13,221.18 34.2,221.16 35.26,221.13 36.32,221.09 37.38,221.03 38.44,220.94 39.5,220.78 40.56,220.47 41.62,219.94 42.68,219.05 43.74,217.68 44.8,215.78 45.86,213.41 46.92,210.79 47.98,208.31 49.04,206.41 50.1,205.49 51.16,205.47 52.22,205.95 53.28,206.84 54.34,208 55.4,209.25 56.46,210.45 57.52,211.47 58.58,212.22 59.64,212.67 60.7,212.8 61.76,212.67 62.82,212.33 63.88,211.86 64.94,211.33 66,210.81 67.06,210.36 68.12,210.04 69.19,209.86 70.25,209.85 71.31,210.01 72.37,210.34 73.43,210.82 74.49,211.42 75.55,212.1 76.61,212.83 77.67,213.57 78.73,214.3 79.79,214.98 80.85,215.58 81.91,216.1 82.97,216.52 84.03,216.85 85.09,217.09 86.15,217.24 87.21,217.34 88.27,217.4 89.33,217.44 90.39,217.48 91.45,217.55 92.51,217.65 93.57,217.8 94.63,217.99 95.69,218.23 96.75,218.5 97.81,218.79 98.87,219.09 99.93,219.39 100.99,219.67 102.05,219.93 103.12,220.16 104.18,220.36 105.24,220.52 106.3,220.66 107.36,220.78 108.42,220.87 109.48,220.94 110.54,221.01 111.6,221.06 112.66,221.1 113.72,221.13 114.78,221.16 115.84,221.19 116.9,221.21 117.96,221.23 119.02,221.24 120.08,221.26 121.14,221.27 122.2,221.28 123.26,221.29 124.32,221.3 125.38,221.31 126.44,221.31 127.5,221.32 128.56,221.32 129.62,221.33 130.68,221.33 131.74,221.33 132.8,221.33 133.86,221.34 134.92,221.34 135.99,221.34" fill="none" stroke="#30a050" stroke-width="0.75" stroke-linejoin="round"/>
<polyline points="25.71,221.28 26.77,221.27 27.83,221.25 28.89,221.24 29.95,221.22 31.01,221.2 32.07,221.17 33.13,221.15 34.2,221.12 35.26,221.08 36.32,221.03 37.38,220.96 38.44,220.85 39.5,220.65 40.56,220.28 41.62,219.62 42.68,218.53 43.74,216.86 44.8,214.53 45.86,211.62 46.92,208.4 47.98,205.36 49.04,203.04 50.1,201.91 51.16,201.88 52.22,202.48 53.28,203.57 54.34,204.98 55.4,206.52 56.46,207.99 57.52,209.24 58.58,210.16 59.64,210.71 60.7,210.87 61.76,210.71 62.82,210.3 63.88,209.72 64.94,209.07 66,208.43 67.06,207.89 68.12,207.48 69.19,207.26 70.25,207.25 71.31,207.46 72.37,207.86 73.43,208.45 74.49,209.18 75.55,210.01 76.61,210.91 77.67,211.82 78.73,212.71 79.79,213.54 80.85,214.28 81.91,214.92 82.97,215.44 84.03,215.84 85.09,216.12 86.15,216.32 87.21,216.44 88.27,216.51 89.33,216.56 90.39,216.61 91.45,216.69 92.51,216.82 93.57,217 94.63,217.24 95.69,217.52 96.75,217.86 97.81,218.21 98.87,218.58 99.93,218.95 100.99,219.29 102.05,219.61 103.12,219.89 104.18,220.13 105.24,220.34 106.3,220.51 107.36,220.65 108.42,220.76 109.48,220.85 110.54,220.93 111.6,220.99 112.66,221.04 113.72,221.08 114.78,221.12 115.84,221.15 116.9,221.18 117.96,221.2 119.02,221.22 120.08,221.24 121.14,221.26 122.2,221.27 123.26,221.28 124.32,221.29 125.38,221.3 126.44,221.31 127.5,221.31 128.56,221.32 129.62,221.32 130.68,221.33 131.74,221.33 132.8,221.33 133.86,221.33 134.92,221.34 135.99,221.34" fill="none" stroke="#7040b0" stroke-width="0.75" stroke-linejoin="round"/>
<polyline points="25.71,221.27 26.77,221.25 27.83,221.24 28.89,221.22 29.95,221.2 31.01,221.17 32.07,221.14 33.13,221.11 34.2,221.08 35.26,221.03 36.32,220.98 37.38,220.89 38.44,220.76 39.5,220.52 40.56,220.08 41.62,219.31 42.68,218.01 43.74,216.03 44.8,213.27 45.86,209.82 46.92,206.02 47.98,202.42 49.04,199.67 50.1,198.33 51.16,198.3 52.22,199 53.28,200.29 54.34,201.97 55.4,203.79 56.46,205.53 57.52,207.01 58.58,208.11 59.64,208.75 60.7,208.94 61.76,208.75 62.82,208.26 63.88,207.58 64.94,206.81 66,206.06 67.06,205.41 68.12,204.93 69.19,204.67 70.25,204.66 71.31,204.9 72.37,205.38 73.43,206.07 74.49,206.93 75.55,207.92 76.61,208.98 77.67,210.07 78.73,211.12 79.79,212.1 80.85,212.98 81.91,213.73 82.97,214.35 84.03,214.82 85.09,215.16 86.15,215.39 87.21,215.53 88.27,215.62 89.33,215.67 90.39,215.74 91.45,215.83 92.51,215.98 93.57,216.2 94.63,216.48 95.69,216.82 96.75,217.21 97.81,217.64 98.87,218.07 99.93,218.51 100.99,218.91 102.05,219.29 103.12,219.62 104.18,219.91 105.24,220.15 106.3,220.36 107.36,220.52 108.42,220.66 109.48,220.76 110.54,220.85 111.6,220.93 112.66,220.99 113.72,221.04 114.78,221.08 115.84,221.12 116.9,221.15 117.96,221.18 119.02,221.2 120.08,221.22 121.14,221.24 122.2,221.26 123.26,221.27 124.32,221.28 125.38,221.29 126.44,221.3 127.5,221.31 128.56,221.31 129.62,221.32 130.68,221.32 131.74,221.33 132.8,221.33 133.86,221.33 134.92,221.33 135.99,221.34" fill="none" stroke="#8a50c8" stroke-width="0.75" stroke-linejoin="round"/>
<polyline points="25.71,221.26 26.77,221.24 27.83,221.22 28.89,221.2 29.95,221.18 31.01,221.15 32.07,221.12 33.13,221.08 34.2,221.04 35.26,220.99 36.32,220.93 37.38,220.84 38.44,220.69 39.5,220.42 40.56,219.92 41.62,219.05 42.68,217.59 43.74,215.35 44.8,212.24 45.86,208.35 46.92,204.06 47.98,200 49.04,196.9 50.1,195.39 51.16,195.36 52.22,196.15 53.28,197.6 54.34,199.49 55.4,201.55 56.46,203.51 57.52,205.18 58.58,206.41 59.64,207.14 60.7,207.36 61.76,207.14 62.82,206.59 63.88,205.82 64.94,204.95 66,204.1 67.06,203.37 68.12,202.83 69.19,202.54 70.25,202.53 71.31,202.8 72.37,203.34 73.43,204.12 74.49,205.09 75.55,206.21 76.61,207.4 77.67,208.62 78.73,209.81 79.79,210.92 80.85,211.91 81.91,212.76 82.97,213.45 84.03,213.99 85.09,214.37 86.15,214.63 87.21,214.79 88.27,214.88 89.33,214.95 90.39,215.02 91.45,215.13 92.51,215.3 93.57,215.54 94.63,215.86 95.69,216.24 96.75,216.69 97.81,217.16 98.87,217.66 99.93,218.14 100.99,218.6 102.05,219.03 103.12,219.4 104.18,219.73 105.24,220 106.3,220.23 107.36,220.42 108.42,220.57 109.48,220.69 110.54,220.79 111.6,220.87 112.66,220.94 113.72,221 114.78,221.05 115.84,221.09 116.9,221.12 117.96,221.15 119.02,221.18 120.08,221.21 121.14,221.23 122.2,221.24 123.26,221.26 124.32,221.27 125.38,221.28 126.44,221.29 127.5,221.3 128.56,221.31 129.62,221.31 130.68,221.32 131.74,221.32 132.8,221.33 133.86,221.33 134.92,221.33 135.99,221.33" fill="none" stroke="#4060d0" stroke-width="0.75" stroke-linejoin="round"/>
<polyline points="25.71,221.24 26.77,221.23 27.83,221.21 28.89,221.18 29.95,221.15 31.01,221.12 32.07,221.09 33.13,221.05 34.2,221 35.26,220.94 36.32,220.87 37.38,220.77 38.44,220.6 39.5,220.29 40.56,219.73 41.62,218.73 42.68,217.07 43.74,214.52 44.8,210.98 45.86,206.56 46.92,201.68 47.98,197.06 49.04,193.53 50.1,191.81 51.16,191.77 52.22,192.67 53.28,194.33 54.34,196.48 55.4,198.82 56.46,201.05 57.52,202.96 58.58,204.35 59.64,205.18 60.7,205.43 61.76,205.19 62.82,204.56 63.88,203.68 64.94,202.69 66,201.72 67.06,200.89 68.12,200.28 69.19,199.95 70.25,199.93 71.31,200.24 72.37,200.85 73.43,201.74 74.49,202.85 75.55,204.12 76.61,205.48 77.67,206.87 78.73,208.22 79.79,209.48 80.85,210.61 81.91,211.58 82.97,212.37 84.03,212.97 85.09,213.41 86.15,213.71 87.21,213.89 88.27,213.99 89.33,214.07 90.39,214.15 91.45,214.27 92.51,214.47 93.57,214.74 94.63,215.1 95.69,215.54 96.75,216.04 97.81,216.59 98.87,217.15 99.93,217.7 100.99,218.23 102.05,218.71 103.12,219.14 104.18,219.5 105.24,219.82 106.3,220.08 107.36,220.29 108.42,220.46 109.48,220.6 110.54,220.71 111.6,220.81 112.66,220.88 113.72,220.95 114.78,221 115.84,221.05 116.9,221.09 117.96,221.13 119.02,221.16 120.08,221.19 121.14,221.21 122.2,221.23 123.26,221.25 124.32,221.26 125.38,221.28 126.44,221.29 127.5,221.3 128.56,221.3 129.62,221.31 130.68,221.32 131.74,221.32 132.8,221.33 133.86,221.33 134.92,221.33 135.99,221.33" fill="none" stroke="#b040b0" stroke-width="0.75" stroke-linejoin="round"/>
<polyline points="25.71,221.23 26.77,221.21 27.83,221.19 28.89,221.16 29.95,221.13 31.01,221.1 32.07,221.06 33.13,221.01 34.2,220.96 35.26,220.9 36.32,220.82 37.38,220.71 38.44,220.52 39.5,220.17 40.56,219.55 41.62,218.45 42.68,216.6 43.74,213.79 44.8,209.86 45.86,204.96 46.92,199.55 47.98,194.43 49.04,190.52 50.1,188.61 51.16,188.57 52.22,189.57 53.28,191.41 54.34,193.79 55.4,196.38 56.46,198.86 57.52,200.97 58.58,202.52 59.64,203.43 60.7,203.71 61.76,203.44 62.82,202.74 63.88,201.77 64.94,200.67 66,199.6 67.06,198.68 68.12,198 69.19,197.63 70.25,197.61 71.31,197.96 72.37,198.64 73.43,199.62 74.49,200.85 75.55,202.26 76.61,203.77 77.67,205.3 78.73,206.8 79.79,208.2 80.85,209.45 81.91,210.52 82.97,211.4 84.03,212.07 85.09,212.55 86.15,212.88 87.21,213.08 88.27,213.2 89.33,213.28 90.39,213.37 91.45,213.51 92.51,213.72 93.57,214.03 94.63,214.42 95.69,214.91 96.75,215.47 97.81,216.07 98.87,216.69 99.93,217.31 100.99,217.89 102.05,218.42 103.12,218.9 104.18,219.31 105.24,219.65 106.3,219.94 107.36,220.17 108.42,220.36 109.48,220.52 110.54,220.65 111.6,220.75 112.66,220.83 113.72,220.91 114.78,220.97 115.84,221.02 116.9,221.07 117.96,221.11 119.02,221.14 120.08,221.17 121.14,221.2 122.2,221.22 123.26,221.24 124.32,221.25 125.38,221.27 126.44,221.28 127.5,221.29 128.56,221.3 129.62,221.31 130.68,221.31 131.74,221.32 132.8,221.32 133.86,221.33 134.92,221.33 135.99,221.33" fill="none" stroke="#5080b0" stroke-width="0.75" stroke-linejoin="round"/>
<polyline points="25.71,221.22 26.77,221.19 27.83,221.17 28.89,221.14 29.95,221.1 31.01,221.06 32.07,221.02 33.13,220.96 34.2,220.9 35.26,220.83 36.32,220.74 37.38,220.61 38.44,220.39 39.5,220 40.56,219.28 41.62,218 42.68,215.88 43.74,212.63 44.8,208.11 45.86,202.47 46.92,196.23 47.98,190.33 49.04,185.82 50.1,183.62 51.16,183.58 52.22,184.73 53.28,186.85 54.34,189.59 55.4,192.57 56.46,195.43 57.52,197.86 58.58,199.65 59.64,200.7 60.7,201.02 61.76,200.71 62.82,199.91 63.88,198.78 64.94,197.52 66,196.29 67.06,195.23 68.12,194.44 69.19,194.02 70.25,194 71.31,194.39 72.37,195.18 73.43,196.31 74.49,197.73 75.55,199.35 76.61,201.09 77.67,202.86 78.73,204.59 79.79,206.2 80.85,207.64 81.91,208.87 82.97,209.88 84.03,210.65 85.09,211.22 86.15,211.59 87.21,211.82 88.27,211.96 89.33,212.05 90.39,212.16 91.45,212.32 92.51,212.56 93.57,212.91 94.63,213.37 95.69,213.93 96.75,214.58 97.81,215.27 98.87,215.99 99.93,216.69 100.99,217.36 102.05,217.98 103.12,218.52 104.18,219 105.24,219.39 106.3,219.73 107.36,220 108.42,220.22 109.48,220.39 110.54,220.54 111.6,220.66 112.66,220.76 113.72,220.84 114.78,220.91 115.84,220.97 116.9,221.02 117.96,221.07 119.02,221.11 120.08,221.14 121.14,221.17 122.2,221.2 123.26,221.22 124.32,221.24 125.38,221.26 126.44,221.27 127.5,221.28 128.56,221.29 129.62,221.3 130.68,221.31 131.74,221.32 132.8,221.32 133.86,221.32 134.92,221.33 135.99,221.33" fill="none" stroke="#a04040" stroke-width="0.75" stroke-linejoin="round"/>
<polyline points="25.71,221.21 26.77,221.18 27.83,221.15 28.89,221.12 29.95,221.08 31.01,221.04 32.07,220.99 33.13,220.94 34.2,220.87 35.26,220.8 36.32,220.7 37.38,220.56 38.44,220.32 39.5,219.9 40.56,219.13 41.62,217.77 42.68,215.49 43.74,212.01 44.8,207.17 45.86,201.12 46.92,194.45 47.98,188.12 49.04,183.3 50.1,180.94 51.16,180.89 52.22,182.13 53.28,184.39 54.34,187.33 55.4,190.53 56.46,193.59 57.52,196.19 58.58,198.1 59.64,199.23 60.7,199.58 61.76,199.24 62.82,198.38 63.88,197.18 64.94,195.83 66,194.51 67.06,193.37 68.12,192.53 69.19,192.08 70.25,192.05 71.31,192.47 72.37,193.32 73.43,194.53 74.49,196.05 75.55,197.78 76.61,199.65 77.67,201.55 78.73,203.4 79.79,205.12 80.85,206.67 81.91,207.99 82.97,209.06 84.03,209.89 85.09,210.49 86.15,210.9 87.21,211.14 88.27,211.29 89.33,211.39 90.39,211.5 91.45,211.67 92.51,211.94 93.57,212.31 94.63,212.8 95.69,213.41 96.75,214.09 97.81,214.84 98.87,215.61 99.93,216.36 100.99,217.08 102.05,217.74 103.12,218.32 104.18,218.83 105.24,219.26 106.3,219.61 107.36,219.9 108.42,220.14 109.48,220.33 110.54,220.48 111.6,220.61 112.66,220.72 113.72,220.8 114.78,220.88 115.84,220.95 116.9,221 117.96,221.05 119.02,221.09 120.08,221.13 121.14,221.16 122.2,221.19 123.26,221.21 124.32,221.23 125.38,221.25 126.44,221.27 127.5,221.28 128.56,221.29 129.62,221.3 130.68,221.31 131.74,221.31 132.8,221.32 133.86,221.32 134.92,221.33 135.99,221.33" fill="none" stroke="#8a40a0" stroke-width="0.75" stroke-linejoin="round"/>
<polyline points="25.71,221.2 26.77,221.17 27.83,221.14 28.89,221.11 29.95,221.07 31.01,221.02 32.07,220.97 33.13,220.91 34.2,220.84 35.26,220.76 36.32,220.66 37.38,220.5 38.44,220.25 39.5,219.81 40.56,218.98 41.62,217.53 42.68,215.11 43.74,211.4 44.8,206.23 45.86,199.78 46.92,192.66 47.98,185.91 49.04,180.77 50.1,178.25 51.16,178.2 52.22,179.52 53.28,181.93 54.34,185.07 55.4,188.48 56.46,191.75 57.52,194.52 58.58,196.56 59.64,197.76 60.7,198.13 61.76,197.77 62.82,196.85 63.88,195.57 64.94,194.13 66,192.72 67.06,191.51 68.12,190.61 69.19,190.13 70.25,190.11 71.31,190.56 72.37,191.45 73.43,192.75 74.49,194.37 75.55,196.22 76.61,198.2 77.67,200.23 78.73,202.2 79.79,204.04 80.85,205.69 81.91,207.1 82.97,208.25 84.03,209.13 85.09,209.77 86.15,210.2 87.21,210.47 88.27,210.62 89.33,210.73 90.39,210.85 91.45,211.03 92.51,211.31 93.57,211.71 94.63,212.24 95.69,212.88 96.75,213.61 97.81,214.41 98.87,215.22 99.93,216.03 100.99,216.8 102.05,217.5 103.12,218.12 104.18,218.66 105.24,219.12 106.3,219.49 107.36,219.8 108.42,220.06 109.48,220.26 110.54,220.42 111.6,220.56 112.66,220.67 113.72,220.77 114.78,220.85 115.84,220.92 116.9,220.98 117.96,221.03 119.02,221.08 120.08,221.11 121.14,221.15 122.2,221.18 123.26,221.2 124.32,221.23 125.38,221.25 126.44,221.26 127.5,221.27 128.56,221.29 129.62,221.3 130.68,221.3 131.74,221.31 132.8,221.32 133.86,221.32 134.92,221.33 135.99,221.33" fill="none" stroke="#c08040" stroke-width="0.75" stroke-linejoin="round"/>
<polyline points="25.71,221.19 26.77,221.16 27.83,221.13 28.89,221.09 29.95,221.05 31.01,221 32.07,220.94 33.13,220.88 34.2,220.8 35.26,220.71 36.32,220.6 37.38,220.44 38.44,220.17 39.5,219.68 40.56,218.8 41.62,217.22 42.68,214.61 43.74,210.6 44.8,205.02 45.86,198.05 46.92,190.36 47.98,183.07 49.04,177.52 50.1,174.8 51.16,174.74 52.22,176.17 53.28,178.78 54.34,182.16 55.4,185.85 56.46,189.37 57.52,192.37 58.58,194.57 59.64,195.87 60.7,196.27 61.76,195.88 62.82,194.89 63.88,193.51 64.94,191.95 66,190.43 67.06,189.12 68.12,188.15 69.19,187.63 70.25,187.6 71.31,188.09 72.37,189.06 73.43,190.46 74.49,192.2 75.55,194.2 76.61,196.35 77.67,198.54 78.73,200.67 79.79,202.66 80.85,204.44 81.91,205.96 82.97,207.2 84.03,208.16 85.09,208.85 86.15,209.31 87.21,209.59 88.27,209.76 89.33,209.88 90.39,210.01 91.45,210.2 92.51,210.51 93.57,210.94 94.63,211.51 95.69,212.2 96.75,212.99 97.81,213.85 98.87,214.73 99.93,215.61 100.99,216.43 102.05,217.19 103.12,217.86 104.18,218.45 105.24,218.94 106.3,219.35 107.36,219.68 108.42,219.95 109.48,220.17 110.54,220.35 111.6,220.5 112.66,220.62 113.72,220.72 114.78,220.81 115.84,220.88 116.9,220.95 117.96,221.01 119.02,221.05 120.08,221.1 121.14,221.13 122.2,221.17 123.26,221.19 124.32,221.22 125.38,221.24 126.44,221.25 127.5,221.27 128.56,221.28 129.62,221.29 130.68,221.3 131.74,221.31 132.8,221.32 133.86,221.32 134.92,221.32 135.99,221.33" fill="none" stroke="#3a5ac8" stroke-width="0.75" stroke-linejoin="round"/>
<polyline points="25.71,221.18 26.77,221.15 27.83,221.11 28.89,221.07 29.95,221.03 31.01,220.98 32.07,220.92 33.13,220.85 34.2,220.77 35.26,220.68 36.32,220.56 37.38,220.38 38.44,220.1 39.5,219.59 40.56,218.65 41.62,216.99 42.68,214.22 43.74,209.98 44.8,204.08 45.86,196.71 46.92,188.57 47.98,180.86 49.04,174.99 50.1,172.12 51.16,172.06 52.22,173.56 53.28,176.32 54.34,179.9 55.4,183.8 56.46,187.53 57.52,190.7 58.58,193.03 59.64,194.4 60.7,194.82 61.76,194.42 62.82,193.37 63.88,191.9 64.94,190.26 66,188.65 67.06,187.26 68.12,186.24 69.19,185.68 70.25,185.66 71.31,186.17 72.37,187.2 73.43,188.67 74.49,190.52 75.55,192.64 76.61,194.91 77.67,197.22 78.73,199.48 79.79,201.58 80.85,203.46 81.91,205.07 82.97,206.38 84.03,207.39 85.09,208.13 86.15,208.61 87.21,208.92 88.27,209.09 89.33,209.22 90.39,209.36 91.45,209.56 92.51,209.88 93.57,210.34 94.63,210.94 95.69,211.67 96.75,212.51 97.81,213.42 98.87,214.35 99.93,215.27 100.99,216.15 102.05,216.95 103.12,217.66 104.18,218.28 105.24,218.8 106.3,219.23 107.36,219.59 108.42,219.87 109.48,220.1 110.54,220.29 111.6,220.45 112.66,220.58 113.72,220.69 114.78,220.78 115.84,220.86 116.9,220.93 117.96,220.99 119.02,221.04 120.08,221.08 121.14,221.12 122.2,221.16 123.26,221.18 124.32,221.21 125.38,221.23 126.44,221.25 127.5,221.27 128.56,221.28 129.62,221.29 130.68,221.3 131.74,221.31 132.8,221.31 133.86,221.32 134.92,221.32 135.99,221.33" fill="none" stroke="#3a80a0" stroke-width="0.75" stroke-linejoin="round"/>
<polyline points="25.71,221.17 26.77,221.13 27.83,221.1 28.89,221.05 29.95,221.01 31.01,220.95 32.07,220.89 33.13,220.81 34.2,220.73 35.26,220.63 36.32,220.5 37.38,220.31 38.44,220.01 39.5,219.46 40.56,218.45 41.62,216.67 42.68,213.7 43.74,209.15 44.8,202.82 45.86,194.92 46.92,186.19 47.98,177.92 49.04,171.62 50.1,168.54 51.16,168.47 52.22,170.09 53.28,173.05 54.34,176.89 55.4,181.07 56.46,185.07 57.52,188.47 58.58,190.97 59.64,192.44 60.7,192.9 61.76,192.46 62.82,191.33 63.88,189.76 64.94,187.99 66,186.27 67.06,184.78 68.12,183.68 69.19,183.09 70.25,183.06 71.31,183.61 72.37,184.71 73.43,186.3 74.49,188.28 75.55,190.55 76.61,192.99 77.67,195.47 78.73,197.89 79.79,200.14 80.85,202.16 81.91,203.89 82.97,205.29 84.03,206.38 85.09,207.16 86.15,207.69 87.21,208.01 88.27,208.2 89.33,208.34 90.39,208.48 91.45,208.71 92.51,209.05 93.57,209.54 94.63,210.18 95.69,210.97 96.75,211.87 97.81,212.84 98.87,213.84 99.93,214.83 100.99,215.77 102.05,216.63 103.12,217.4 104.18,218.06 105.24,218.62 106.3,219.08 107.36,219.46 108.42,219.77 109.48,220.01 110.54,220.22 111.6,220.38 112.66,220.52 113.72,220.64 114.78,220.74 115.84,220.82 116.9,220.9 117.96,220.96 119.02,221.02 120.08,221.06 121.14,221.11 122.2,221.14 123.26,221.17 124.32,221.2 125.38,221.22 126.44,221.24 127.5,221.26 128.56,221.27 129.62,221.29 130.68,221.3 131.74,221.3 132.8,221.31 133.86,221.32 134.92,221.32 135.99,221.33" fill="none" stroke="#b07030" stroke-width="0.75" stroke-linejoin="round"/>
<polyline points="25.71,221.13 26.77,221.1 27.83,221.05 28.89,221 29.95,220.94 31.01,220.88 32.07,220.8 33.13,220.71 34.2,220.62 35.26,220.5 36.32,220.34 37.38,220.12 38.44,219.76 39.5,219.11 40.56,217.92 41.62,215.81 42.68,212.29 43.74,206.91 44.8,199.41 45.86,190.05 46.92,179.72 47.98,169.93 49.04,162.47 50.1,158.82 51.16,158.74 52.22,160.66 53.28,164.16 54.34,168.71 55.4,173.66 56.46,178.4 57.52,182.42 58.58,185.38 59.64,187.12 60.7,187.66 61.76,187.14 62.82,185.81 63.88,183.95 64.94,181.86 66,179.81 67.06,178.05 68.12,176.75 69.19,176.05 70.25,176.02 71.31,176.67 72.37,177.97 73.43,179.85 74.49,182.2 75.55,184.88 76.61,187.77 77.67,190.71 78.73,193.57 79.79,196.24 80.85,198.63 81.91,200.67 82.97,202.34 84.03,203.63 85.09,204.55 86.15,205.18 87.21,205.56 88.27,205.79 89.33,205.94 90.39,206.12 91.45,206.38 92.51,206.78 93.57,207.37 94.63,208.13 95.69,209.06 96.75,210.13 97.81,211.28 98.87,212.46 99.93,213.64 100.99,214.75 102.05,215.77 103.12,216.67 104.18,217.45 105.24,218.11 106.3,218.66 107.36,219.11 108.42,219.47 109.48,219.77 110.54,220.01 111.6,220.21 112.66,220.37 113.72,220.51 114.78,220.63 115.84,220.73 116.9,220.81 117.96,220.89 119.02,220.96 120.08,221.01 121.14,221.06 122.2,221.1 123.26,221.14 124.32,221.17 125.38,221.2 126.44,221.22 127.5,221.24 128.56,221.26 129.62,221.28 130.68,221.29 131.74,221.3 132.8,221.31 133.86,221.31 134.92,221.32 135.99,221.32" fill="none" stroke="#4cd070" stroke-width="0.75" stroke-linejoin="round"/>
<polyline points="25.71,221.11 26.77,221.07 27.83,221.02 28.89,220.96 29.95,220.9 31.01,220.82 32.07,220.74 33.13,220.64 34.2,220.53 35.26,220.4 36.32,220.23 37.38,219.99 38.44,219.58 39.5,218.86 40.56,217.54 41.62,215.19 42.68,211.27 43.74,205.28 44.8,196.95 45.86,186.53 46.92,175.04 47.98,164.15 49.04,155.84 50.1,151.79 51.16,151.7 52.22,153.83 53.28,157.73 54.34,162.79 55.4,168.29 56.46,173.57 57.52,178.04 58.58,181.34 59.64,183.27 60.7,183.87 61.76,183.29 62.82,181.81 63.88,179.74 64.94,177.42 66,175.14 67.06,173.18 68.12,171.74 69.19,170.96 70.25,170.92 71.31,171.64 72.37,173.09 73.43,175.18 74.49,177.8 75.55,180.78 76.61,183.99 77.67,187.26 78.73,190.45 79.79,193.42 80.85,196.08 81.91,198.35 82.97,200.2 84.03,201.63 85.09,202.67 86.15,203.36 87.21,203.78 88.27,204.04 89.33,204.21 90.39,204.41 91.45,204.7 92.51,205.15 93.57,205.79 94.63,206.64 95.69,207.68 96.75,208.86 97.81,210.15 98.87,211.47 99.93,212.77 100.99,214 102.05,215.14 103.12,216.14 104.18,217.01 105.24,217.75 106.3,218.36 107.36,218.86 108.42,219.26 109.48,219.59 110.54,219.86 111.6,220.08 112.66,220.26 113.72,220.42 114.78,220.55 115.84,220.66 116.9,220.75 117.96,220.84 119.02,220.91 120.08,220.98 121.14,221.03 122.2,221.08 123.26,221.12 124.32,221.15 125.38,221.19 126.44,221.21 127.5,221.23 128.56,221.25 129.62,221.27 130.68,221.28 131.74,221.29 132.8,221.3 133.86,221.31 134.92,221.32 135.99,221.32" fill="none" stroke="#e0409a" stroke-width="0.75" stroke-linejoin="round"/>
<polyline points="25.71,221.1 26.77,221.06 27.83,221.01 28.89,220.95 29.95,220.88 31.01,220.8 32.07,220.72 33.13,220.62 34.2,220.5 35.26,220.37 36.32,220.19 37.38,219.94 38.44,219.52 39.5,218.77 40.56,217.39 41.62,214.95 42.68,210.89 43.74,204.66 44.8,196.01 45.86,185.19 46.92,173.25 47.98,161.94 49.04,153.31 50.1,149.1 51.16,149.01 52.22,151.22 53.28,155.27 54.34,160.53 55.4,166.24 56.46,171.72 57.52,176.37 58.58,179.79 59.64,181.81 60.7,182.43 61.76,181.83 62.82,180.29 63.88,178.14 64.94,175.72 66,173.36 67.06,171.32 68.12,169.82 69.19,169.01 70.25,168.97 71.31,169.73 72.37,171.23 73.43,173.4 74.49,176.11 75.55,179.22 76.61,182.55 77.67,185.95 78.73,189.25 79.79,192.34 80.85,195.1 81.91,197.46 82.97,199.39 84.03,200.87 85.09,201.95 86.15,202.66 87.21,203.11 88.27,203.37 89.33,203.55 90.39,203.75 91.45,204.05 92.51,204.52 93.57,205.19 94.63,206.08 95.69,207.15 96.75,208.38 97.81,209.71 98.87,211.08 99.93,212.44 100.99,213.72 102.05,214.9 103.12,215.94 104.18,216.85 105.24,217.61 106.3,218.24 107.36,218.76 108.42,219.18 109.48,219.53 110.54,219.8 111.6,220.03 112.66,220.22 113.72,220.38 114.78,220.52 115.84,220.63 116.9,220.73 117.96,220.82 119.02,220.89 120.08,220.96 121.14,221.02 122.2,221.07 123.26,221.11 124.32,221.15 125.38,221.18 126.44,221.21 127.5,221.23 128.56,221.25 129.62,221.26 130.68,221.28 131.74,221.29 132.8,221.3 133.86,221.31 134.92,221.31 135.99,221.32" fill="none" stroke="#55682f" stroke-width="0.75" stroke-linejoin="round"/>
</g>
<rect x="26.2" y="142.4" width="108.4" height="80.6" fill="none" stroke="#151515" stroke-width="0.95"/>
<line x1="24.2" y1="145" x2="26.2" y2="145" stroke="#222" stroke-width="0.7" stroke-linecap="butt"/>
<text x="23.4" y="146.8" font-family="Liberation Sans, Arial, sans-serif" font-size="5.2" font-weight="bold" text-anchor="end" fill="#111" stroke="#111" stroke-width="0.22">600</text>
<line x1="24.2" y1="164.4" x2="26.2" y2="164.4" stroke="#222" stroke-width="0.7" stroke-linecap="butt"/>
<text x="23.4" y="166.2" font-family="Liberation Sans, Arial, sans-serif" font-size="5.2" font-weight="bold" text-anchor="end" fill="#111" stroke="#111" stroke-width="0.22">450</text>
<line x1="24.2" y1="183.5" x2="26.2" y2="183.5" stroke="#222" stroke-width="0.7" stroke-linecap="butt"/>
<text x="23.4" y="185.3" font-family="Liberation Sans, Arial, sans-serif" font-size="5.2" font-weight="bold" text-anchor="end" fill="#111" stroke="#111" stroke-width="0.22">300</text>
<line x1="24.2" y1="202.8" x2="26.2" y2="202.8" stroke="#222" stroke-width="0.7" stroke-linecap="butt"/>
<text x="23.4" y="204.6" font-family="Liberation Sans, Arial, sans-serif" font-size="5.2" font-weight="bold" text-anchor="end" fill="#111" stroke="#111" stroke-width="0.22">150</text>
<line x1="24.2" y1="221.8" x2="26.2" y2="221.8" stroke="#222" stroke-width="0.7" stroke-linecap="butt"/>
<text x="23.4" y="223.6" font-family="Liberation Sans, Arial, sans-serif" font-size="5.2" font-weight="bold" text-anchor="end" fill="#111" stroke="#111" stroke-width="0.22">0</text>
<line x1="25.1" y1="154.7" x2="26.2" y2="154.7" stroke="#222" stroke-width="0.6" stroke-linecap="butt"/>
<line x1="25.1" y1="174" x2="26.2" y2="174" stroke="#222" stroke-width="0.6" stroke-linecap="butt"/>
<line x1="25.1" y1="193.2" x2="26.2" y2="193.2" stroke="#222" stroke-width="0.6" stroke-linecap="butt"/>
<line x1="25.1" y1="212.3" x2="26.2" y2="212.3" stroke="#222" stroke-width="0.6" stroke-linecap="butt"/>
<line x1="40.5" y1="223" x2="40.5" y2="225" stroke="#222" stroke-width="0.7" stroke-linecap="butt"/>
<text x="40.7" y="230.5" font-family="Liberation Sans, Arial, sans-serif" font-size="5.2" font-weight="bold" text-anchor="middle" fill="#111" stroke="#111" stroke-width="0.22">550</text>
<line x1="61.62" y1="223" x2="61.62" y2="225" stroke="#222" stroke-width="0.7" stroke-linecap="butt"/>
<text x="61.83" y="230.5" font-family="Liberation Sans, Arial, sans-serif" font-size="5.2" font-weight="bold" text-anchor="middle" fill="#111" stroke="#111" stroke-width="0.22">600</text>
<line x1="82.75" y1="223" x2="82.75" y2="225" stroke="#222" stroke-width="0.7" stroke-linecap="butt"/>
<text x="82.95" y="230.5" font-family="Liberation Sans, Arial, sans-serif" font-size="5.2" font-weight="bold" text-anchor="middle" fill="#111" stroke="#111" stroke-width="0.22">650</text>
<line x1="103.88" y1="223" x2="103.88" y2="225" stroke="#222" stroke-width="0.7" stroke-linecap="butt"/>
<text x="104.08" y="230.5" font-family="Liberation Sans, Arial, sans-serif" font-size="5.2" font-weight="bold" text-anchor="middle" fill="#111" stroke="#111" stroke-width="0.22">700</text>
<line x1="125" y1="223" x2="125" y2="225" stroke="#222" stroke-width="0.7" stroke-linecap="butt"/>
<text x="125.2" y="230.5" font-family="Liberation Sans, Arial, sans-serif" font-size="5.2" font-weight="bold" text-anchor="middle" fill="#111" stroke="#111" stroke-width="0.22">750</text>
<line x1="29.94" y1="223" x2="29.94" y2="224.1" stroke="#222" stroke-width="0.6" stroke-linecap="butt"/>
<line x1="51.06" y1="223" x2="51.06" y2="224.1" stroke="#222" stroke-width="0.6" stroke-linecap="butt"/>
<line x1="72.19" y1="223" x2="72.19" y2="224.1" stroke="#222" stroke-width="0.6" stroke-linecap="butt"/>
<line x1="93.31" y1="223" x2="93.31" y2="224.1" stroke="#222" stroke-width="0.6" stroke-linecap="butt"/>
<line x1="114.44" y1="223" x2="114.44" y2="224.1" stroke="#222" stroke-width="0.6" stroke-linecap="butt"/>
<text x="11" y="186.5" font-family="Liberation Sans, Arial, sans-serif" font-size="5.2" font-weight="bold" text-anchor="middle" fill="#111" transform="rotate(-90 11 186.5)" textLength="45" lengthAdjust="spacingAndGlyphs" stroke="#111" stroke-width="0.22">PL Intensity (a.u.)</text>
<text x="80.4" y="239.6" font-family="Liberation Sans, Arial, sans-serif" font-size="5.4" font-weight="bold" text-anchor="middle" fill="#111" textLength="43.5" lengthAdjust="spacingAndGlyphs" stroke="#111" stroke-width="0.22">Wavelength (nm)</text>
<text x="27.4" y="155.5" font-family="Liberation Serif, Times New Roman, serif" font-size="14.6" font-weight="bold" text-anchor="start" fill="#000" letter-spacing="0.6" stroke="#000" stroke-width="0.3">c)</text>
<rect x="39" y="180.5" width="1.3" height="16" fill="url(#ga)" stroke="none" stroke-width="1"/>
<polygon points="39.65,177.4 38.2,181.2 41.1,181.2" fill="#1fa03a" stroke="none" stroke-width="0" stroke-linejoin="round"/>
<rect x="103.1" y="145.8" width="28.8" height="28.1" fill="#0c0806" stroke="none" stroke-width="1"/>
<rect x="104" y="147.5" width="12.6" height="25.6" fill="#1c100a" stroke="none" stroke-width="1"/>
<rect x="118.2" y="151" width="12.8" height="22.6" fill="url(#vial)" stroke="none" stroke-width="1"/>
<rect x="118.2" y="146.2" width="12.8" height="4.8" fill="#241828" stroke="none" stroke-width="1"/>
<rect x="119.2" y="152.4" width="10.8" height="0.9" fill="#8a4406" stroke="none" stroke-width="1"/>
<text x="117.6" y="160.9" font-family="Liberation Serif, Times New Roman, serif" font-size="5.3" font-weight="bold" text-anchor="middle" fill="#f4f4f4" textLength="27.6" lengthAdjust="spacingAndGlyphs" stroke="#f4f4f4" stroke-width="0.22">thiophenol</text>
<line x1="103.6" y1="163.5" x2="130.2" y2="163.5" stroke="#f0f0f0" stroke-width="0.6" stroke-linecap="butt"/>
<polygon points="131.4,163.5 129.4,162.6 129.4,164.4" fill="#f0f0f0" stroke="none" stroke-width="0" stroke-linejoin="round"/>
<text x="124.7" y="193" font-family="Liberation Sans, Arial, sans-serif" font-size="5.5" font-weight="bold" text-anchor="middle" fill="#111" stroke="#111" stroke-width="0.22">25 µM</text>
<text x="124.2" y="212.9" font-family="Liberation Sans, Arial, sans-serif" font-size="5.5" font-weight="bold" text-anchor="middle" fill="#111" stroke="#111" stroke-width="0.22">0 µM</text>
<line x1="123.7" y1="197.5" x2="123.7" y2="208.4" stroke="#111" stroke-width="0.7" stroke-linecap="butt"/>
<polygon points="123.7,195 122.5,198.2 124.9,198.2" fill="#111" stroke="none" stroke-width="0" stroke-linejoin="round"/>
<clipPath id="cpd"><rect x="163" y="142.3" width="109.4" height="81.5"/></clipPath>
<line x1="164.03" y1="224.8" x2="192.18" y2="140.58" stroke="#e82020" stroke-width="0.9" stroke-linecap="butt" clip-path="url(#cpd)"/>
<rect x="165.3" y="216.3" width="1.8" height="1.8" fill="#111" stroke="none" stroke-width="1"/>
<rect x="166.2" y="213.1" width="1.8" height="1.8" fill="#111" stroke="none" stroke-width="1"/>
<rect x="167.9" y="207.2" width="1.8" height="1.8" fill="#111" stroke="none" stroke-width="1"/>
<rect x="170.1" y="200.1" width="1.8" height="1.8" fill="#111" stroke="none" stroke-width="1"/>
<rect x="172.1" y="194.9" width="1.8" height="1.8" fill="#111" stroke="none" stroke-width="1"/>
<rect x="173.7" y="189.3" width="1.8" height="1.8" fill="#111" stroke="none" stroke-width="1"/>
<rect x="175.3" y="183.7" width="1.8" height="1.8" fill="#111" stroke="none" stroke-width="1"/>
<rect x="177.2" y="179.6" width="1.8" height="1.8" fill="#111" stroke="none" stroke-width="1"/>
<rect x="179.8" y="174.9" width="1.8" height="1.8" fill="#111" stroke="none" stroke-width="1"/>
<rect x="182.4" y="171.8" width="1.8" height="1.8" fill="#111" stroke="none" stroke-width="1"/>
<rect x="184" y="167.9" width="1.8" height="1.8" fill="#111" stroke="none" stroke-width="1"/>
<rect x="185.7" y="164.9" width="1.8" height="1.8" fill="#111" stroke="none" stroke-width="1"/>
<circle cx="195.62" cy="157.01" r="0.95" fill="#3a4ae0"/>
<circle cx="205.2" cy="149.53" r="0.95" fill="#3a4ae0"/>
<circle cx="214.78" cy="147.04" r="0.95" fill="#3a4ae0"/>
<circle cx="224.35" cy="146.29" r="0.95" fill="#3a4ae0"/>
<circle cx="233.93" cy="146.54" r="0.95" fill="#3a4ae0"/>
<circle cx="243.5" cy="146.04" r="0.95" fill="#3a4ae0"/>
<circle cx="253.07" cy="146.54" r="0.95" fill="#3a4ae0"/>
<circle cx="262.65" cy="146.29" r="0.95" fill="#3a4ae0"/>
<rect x="163" y="142.3" width="109.4" height="81.5" fill="none" stroke="#151515" stroke-width="0.95"/>
<line x1="161" y1="142.3" x2="163" y2="142.3" stroke="#222" stroke-width="0.7" stroke-linecap="butt"/>
<text x="160.2" y="144.1" font-family="Liberation Sans, Arial, sans-serif" font-size="5.2" font-weight="bold" text-anchor="end" fill="#111" stroke="#111" stroke-width="0.22">600</text>
<line x1="161" y1="161" x2="163" y2="161" stroke="#222" stroke-width="0.7" stroke-linecap="butt"/>
<text x="160.2" y="162.8" font-family="Liberation Sans, Arial, sans-serif" font-size="5.2" font-weight="bold" text-anchor="end" fill="#111" stroke="#111" stroke-width="0.22">450</text>
<line x1="161" y1="179.7" x2="163" y2="179.7" stroke="#222" stroke-width="0.7" stroke-linecap="butt"/>
<text x="160.2" y="181.5" font-family="Liberation Sans, Arial, sans-serif" font-size="5.2" font-weight="bold" text-anchor="end" fill="#111" stroke="#111" stroke-width="0.22">300</text>
<line x1="161" y1="198.4" x2="163" y2="198.4" stroke="#222" stroke-width="0.7" stroke-linecap="butt"/>
<text x="160.2" y="200.2" font-family="Liberation Sans, Arial, sans-serif" font-size="5.2" font-weight="bold" text-anchor="end" fill="#111" stroke="#111" stroke-width="0.22">150</text>
<line x1="161" y1="217.1" x2="163" y2="217.1" stroke="#222" stroke-width="0.7" stroke-linecap="butt"/>
<text x="160.2" y="218.9" font-family="Liberation Sans, Arial, sans-serif" font-size="5.2" font-weight="bold" text-anchor="end" fill="#111" stroke="#111" stroke-width="0.22">0</text>
<line x1="161.9" y1="151.65" x2="163" y2="151.65" stroke="#222" stroke-width="0.6" stroke-linecap="butt"/>
<line x1="161.9" y1="170.35" x2="163" y2="170.35" stroke="#222" stroke-width="0.6" stroke-linecap="butt"/>
<line x1="161.9" y1="189.05" x2="163" y2="189.05" stroke="#222" stroke-width="0.6" stroke-linecap="butt"/>
<line x1="161.9" y1="207.75" x2="163" y2="207.75" stroke="#222" stroke-width="0.6" stroke-linecap="butt"/>
<line x1="166.9" y1="223.8" x2="166.9" y2="225.8" stroke="#222" stroke-width="0.7" stroke-linecap="butt"/>
<text x="166.9" y="230.3" font-family="Liberation Sans, Arial, sans-serif" font-size="5.2" font-weight="bold" text-anchor="middle" fill="#111" stroke="#111" stroke-width="0.22">0</text>
<line x1="186.05" y1="223.8" x2="186.05" y2="225.8" stroke="#222" stroke-width="0.7" stroke-linecap="butt"/>
<text x="186.05" y="230.3" font-family="Liberation Sans, Arial, sans-serif" font-size="5.2" font-weight="bold" text-anchor="middle" fill="#111" stroke="#111" stroke-width="0.22">5</text>
<line x1="205.2" y1="223.8" x2="205.2" y2="225.8" stroke="#222" stroke-width="0.7" stroke-linecap="butt"/>
<text x="205.2" y="230.3" font-family="Liberation Sans, Arial, sans-serif" font-size="5.2" font-weight="bold" text-anchor="middle" fill="#111" stroke="#111" stroke-width="0.22">10</text>
<line x1="224.35" y1="223.8" x2="224.35" y2="225.8" stroke="#222" stroke-width="0.7" stroke-linecap="butt"/>
<text x="224.35" y="230.3" font-family="Liberation Sans, Arial, sans-serif" font-size="5.2" font-weight="bold" text-anchor="middle" fill="#111" stroke="#111" stroke-width="0.22">15</text>
<line x1="243.5" y1="223.8" x2="243.5" y2="225.8" stroke="#222" stroke-width="0.7" stroke-linecap="butt"/>
<text x="243.5" y="230.3" font-family="Liberation Sans, Arial, sans-serif" font-size="5.2" font-weight="bold" text-anchor="middle" fill="#111" stroke="#111" stroke-width="0.22">20</text>
<line x1="262.65" y1="223.8" x2="262.65" y2="225.8" stroke="#222" stroke-width="0.7" stroke-linecap="butt"/>
<text x="262.65" y="230.3" font-family="Liberation Sans, Arial, sans-serif" font-size="5.2" font-weight="bold" text-anchor="middle" fill="#111" stroke="#111" stroke-width="0.22">25</text>
<line x1="176.47" y1="223.8" x2="176.47" y2="224.9" stroke="#222" stroke-width="0.6" stroke-linecap="butt"/>
<line x1="195.62" y1="223.8" x2="195.62" y2="224.9" stroke="#222" stroke-width="0.6" stroke-linecap="butt"/>
<line x1="214.78" y1="223.8" x2="214.78" y2="224.9" stroke="#222" stroke-width="0.6" stroke-linecap="butt"/>
<line x1="233.93" y1="223.8" x2="233.93" y2="224.9" stroke="#222" stroke-width="0.6" stroke-linecap="butt"/>
<line x1="253.07" y1="223.8" x2="253.07" y2="224.9" stroke="#222" stroke-width="0.6" stroke-linecap="butt"/>
<text x="149.4" y="184.5" font-family="Liberation Sans, Arial, sans-serif" font-size="5.2" font-weight="bold" text-anchor="middle" fill="#111" transform="rotate(-90 149.4 184.5)" textLength="76" lengthAdjust="spacingAndGlyphs" stroke="#111" stroke-width="0.22">PL Intensity at 573 nm (a.u.)</text>
<text x="214.3" y="239.8" font-family="Liberation Sans, Arial, sans-serif" font-size="5.4" font-weight="bold" text-anchor="middle" fill="#111" textLength="56.5" lengthAdjust="spacingAndGlyphs" stroke="#111" stroke-width="0.22">Concentration (µM)</text>
<text x="165.2" y="155.5" font-family="Liberation Serif, Times New Roman, serif" font-size="14.6" font-weight="bold" text-anchor="start" fill="#000" letter-spacing="0.6" stroke="#000" stroke-width="0.3">d)</text>
<text x="194.4" y="179.8" font-family="Liberation Sans, Arial, sans-serif" font-size="5" font-weight="bold" text-anchor="start" fill="#111" textLength="71" lengthAdjust="spacingAndGlyphs" stroke="#111" stroke-width="0.08">y = 7.14 + 91.92*[thiophenol]</text>
<text x="194.4" y="187" font-family="Liberation Sans, Arial, sans-serif" font-size="5.2" font-weight="bold" text-anchor="start" fill="#111" stroke="#111" stroke-width="0.08"><tspan font-style="italic">k</tspan> = 91.92 × 10<tspan font-size="3.6" dy="-1.9">6</tspan><tspan dy="1.9" font-size="5.2"> M</tspan><tspan font-size="3.6" dy="-1.9">-1</tspan></text>
<text x="194.4" y="193.8" font-family="Liberation Sans, Arial, sans-serif" font-size="5.2" font-weight="bold" text-anchor="start" fill="#111" stroke="#111" stroke-width="0.08"><tspan font-style="italic">R</tspan><tspan font-size="3.6" dy="-1.9">2</tspan><tspan dy="1.9" font-size="5.2"> = 0.9913</tspan></text>
<clipPath id="cp3"><rect x="293.1" y="142.2" width="111.5" height="80.7"/></clipPath>
<g clip-path="url(#cp3)">
<polyline points="291,220.47 292.08,220.47 293.16,220.47 294.24,220.47 295.32,220.47 296.4,220.47 297.47,220.47 298.55,220.46 299.63,220.46 300.71,220.46 301.79,220.46 302.87,220.46 303.95,220.45 305.03,220.45 306.11,220.43 307.19,220.41 308.27,220.37 309.35,220.31 310.42,220.23 311.5,220.14 312.58,220.04 313.66,219.96 314.74,219.91 315.82,219.9 316.9,219.91 317.98,219.94 319.06,219.98 320.14,220.02 321.22,220.07 322.29,220.11 323.37,220.14 324.45,220.16 325.53,220.16 326.61,220.16 327.69,220.15 328.77,220.13 329.85,220.11 330.93,220.09 332.01,220.08 333.09,220.07 334.17,220.06 335.24,220.06 336.32,220.07 337.4,220.08 338.48,220.09 339.56,220.11 340.64,220.13 341.72,220.16 342.8,220.18 343.88,220.2 344.96,220.22 346.04,220.24 347.12,220.26 348.19,220.27 349.27,220.29 350.35,220.3 351.43,220.31 352.51,220.31 353.59,220.32 354.67,220.33 355.75,220.33 356.83,220.33 357.91,220.34 358.99,220.34 360.06,220.34 361.14,220.35 362.22,220.35 363.3,220.36 364.38,220.37 365.46,220.38 366.54,220.39 367.62,220.4 368.7,220.4 369.78,220.41 370.86,220.41 371.94,220.42 373.01,220.42 374.09,220.43 375.17,220.43 376.25,220.44 377.33,220.44 378.41,220.44 379.49,220.45 380.57,220.45 381.65,220.45 382.73,220.45 383.81,220.46 384.88,220.46 385.96,220.46 387.04,220.46 388.12,220.46 389.2,220.46 390.28,220.46 391.36,220.46 392.44,220.47 393.52,220.47 394.6,220.47 395.68,220.47 396.76,220.47 397.83,220.47 398.91,220.47 399.99,220.47 401.07,220.47 402.15,220.47 403.23,220.47" fill="none" stroke="#222222" stroke-width="0.75" stroke-linejoin="round"/>
<polyline points="291,220.41 292.08,220.39 293.16,220.38 294.24,220.36 295.32,220.34 296.4,220.32 297.47,220.3 298.55,220.27 299.63,220.23 300.71,220.19 301.79,220.13 302.87,220.05 303.95,219.9 305.03,219.63 306.11,219.15 307.19,218.31 308.27,216.94 309.35,214.92 310.42,212.24 311.5,209.07 312.58,205.81 313.66,203.04 314.74,201.3 315.82,200.87 316.9,201.24 317.98,202.19 319.06,203.55 320.14,205.11 321.22,206.66 322.29,208.03 323.37,209.06 324.45,209.7 325.53,209.95 326.61,209.84 327.69,209.46 328.77,208.89 329.85,208.25 330.93,207.61 332.01,207.07 333.09,206.67 334.17,206.46 335.24,206.45 336.32,206.64 337.4,207.03 338.48,207.57 339.56,208.23 340.64,208.98 341.72,209.77 342.8,210.56 343.88,211.32 344.96,212.03 346.04,212.67 347.12,213.25 348.19,213.75 349.27,214.18 350.35,214.54 351.43,214.86 352.51,215.13 353.59,215.36 354.67,215.55 355.75,215.69 356.83,215.79 357.91,215.86 358.99,215.93 360.06,216.03 361.14,216.18 362.22,216.41 363.3,216.71 364.38,217.04 365.46,217.37 366.54,217.67 367.62,217.93 368.7,218.16 369.78,218.36 370.86,218.54 371.94,218.71 373.01,218.87 374.09,219.01 375.17,219.15 376.25,219.28 377.33,219.4 378.41,219.51 379.49,219.61 380.57,219.71 381.65,219.79 382.73,219.87 383.81,219.94 384.88,220.01 385.96,220.07 387.04,220.12 388.12,220.17 389.2,220.21 390.28,220.24 391.36,220.28 392.44,220.3 393.52,220.33 394.6,220.35 395.68,220.37 396.76,220.38 397.83,220.4 398.91,220.41 399.99,220.42 401.07,220.43 402.15,220.44 403.23,220.44" fill="none" stroke="#e83030" stroke-width="0.75" stroke-linejoin="round"/>
<polyline points="291,220.37 292.08,220.35 293.16,220.32 294.24,220.3 295.32,220.26 296.4,220.23 297.47,220.18 298.55,220.14 299.63,220.08 300.71,220.01 301.79,219.92 302.87,219.78 303.95,219.54 305.03,219.1 306.11,218.31 307.19,216.92 308.27,214.69 309.35,211.39 310.42,206.99 311.5,201.8 312.58,196.47 313.66,191.93 314.74,189.08 315.82,188.38 316.9,188.98 317.98,190.53 319.06,192.76 320.14,195.32 321.22,197.86 322.29,200.09 323.37,201.79 324.45,202.84 325.53,203.24 326.61,203.07 327.69,202.44 328.77,201.51 329.85,200.46 330.93,199.42 332.01,198.52 333.09,197.87 334.17,197.52 335.24,197.51 336.32,197.83 337.4,198.45 338.48,199.34 339.56,200.43 340.64,201.65 341.72,202.94 342.8,204.24 343.88,205.48 344.96,206.65 346.04,207.71 347.12,208.64 348.19,209.46 349.27,210.16 350.35,210.77 351.43,211.28 352.51,211.73 353.59,212.1 354.67,212.41 355.75,212.64 356.83,212.81 357.91,212.93 358.99,213.04 360.06,213.19 361.14,213.45 362.22,213.83 363.3,214.31 364.38,214.85 365.46,215.39 366.54,215.88 367.62,216.32 368.7,216.69 369.78,217.02 370.86,217.32 371.94,217.59 373.01,217.84 374.09,218.08 375.17,218.31 376.25,218.52 377.33,218.71 378.41,218.9 379.49,219.07 380.57,219.22 381.65,219.36 382.73,219.49 383.81,219.61 384.88,219.71 385.96,219.81 387.04,219.89 388.12,219.97 389.2,220.04 390.28,220.1 391.36,220.15 392.44,220.2 393.52,220.24 394.6,220.27 395.68,220.3 396.76,220.33 397.83,220.35 398.91,220.37 399.99,220.39 401.07,220.4 402.15,220.41 403.23,220.42" fill="none" stroke="#3a50e0" stroke-width="0.75" stroke-linejoin="round"/>
<polyline points="291,220.33 292.08,220.3 293.16,220.27 294.24,220.23 295.32,220.19 296.4,220.14 297.47,220.08 298.55,220.01 299.63,219.93 300.71,219.84 301.79,219.71 302.87,219.52 303.95,219.19 305.03,218.59 306.11,217.5 307.19,215.59 308.27,212.52 309.35,207.98 310.42,201.94 311.5,194.8 312.58,187.47 313.66,181.22 314.74,177.3 315.82,176.34 316.9,177.17 317.98,179.3 319.06,182.37 320.14,185.89 321.22,189.39 322.29,192.45 323.37,194.78 324.45,196.23 325.53,196.78 326.61,196.54 327.69,195.67 328.77,194.4 329.85,192.95 330.93,191.52 332.01,190.29 333.09,189.4 334.17,188.92 335.24,188.9 336.32,189.34 337.4,190.2 338.48,191.42 339.56,192.92 340.64,194.6 341.72,196.37 342.8,198.15 343.88,199.86 344.96,201.47 346.04,202.92 347.12,204.21 348.19,205.33 349.27,206.3 350.35,207.13 351.43,207.84 352.51,208.45 353.59,208.96 354.67,209.38 355.75,209.71 356.83,209.94 357.91,210.1 358.99,210.25 360.06,210.47 361.14,210.82 362.22,211.34 363.3,212 364.38,212.74 365.46,213.48 366.54,214.16 367.62,214.76 368.7,215.27 369.78,215.73 370.86,216.13 371.94,216.51 373.01,216.86 374.09,217.19 375.17,217.5 376.25,217.79 377.33,218.06 378.41,218.31 379.49,218.54 380.57,218.75 381.65,218.95 382.73,219.12 383.81,219.28 384.88,219.43 385.96,219.56 387.04,219.68 388.12,219.78 389.2,219.88 390.28,219.96 391.36,220.03 392.44,220.09 393.52,220.15 394.6,220.2 395.68,220.24 396.76,220.28 397.83,220.31 398.91,220.33 399.99,220.36 401.07,220.38 402.15,220.39 403.23,220.41" fill="none" stroke="#d040c0" stroke-width="0.75" stroke-linejoin="round"/>
<polyline points="291,220.32 292.08,220.29 293.16,220.25 294.24,220.21 295.32,220.17 296.4,220.11 297.47,220.05 298.55,219.98 299.63,219.9 300.71,219.8 301.79,219.66 302.87,219.46 303.95,219.11 305.03,218.47 306.11,217.31 307.19,215.29 308.27,212.02 309.35,207.2 310.42,200.78 311.5,193.2 312.58,185.41 313.66,178.77 314.74,174.61 315.82,173.59 316.9,174.47 317.98,176.74 319.06,179.99 320.14,183.73 321.22,187.45 322.29,190.7 323.37,193.18 324.45,194.72 325.53,195.31 326.61,195.05 327.69,194.13 328.77,192.78 329.85,191.24 330.93,189.72 332.01,188.41 333.09,187.46 334.17,186.95 335.24,186.93 336.32,187.4 337.4,188.31 338.48,189.61 339.56,191.2 340.64,192.98 341.72,194.87 342.8,196.76 343.88,198.58 344.96,200.28 346.04,201.82 347.12,203.19 348.19,204.39 349.27,205.41 350.35,206.3 351.43,207.05 352.51,207.7 353.59,208.24 354.67,208.69 355.75,209.04 356.83,209.28 357.91,209.45 358.99,209.61 360.06,209.84 361.14,210.22 362.22,210.77 363.3,211.47 364.38,212.26 365.46,213.05 366.54,213.77 367.62,214.4 368.7,214.95 369.78,215.43 370.86,215.86 371.94,216.26 373.01,216.63 374.09,216.98 375.17,217.31 376.25,217.62 377.33,217.91 378.41,218.17 379.49,218.42 380.57,218.64 381.65,218.85 382.73,219.04 383.81,219.21 384.88,219.37 385.96,219.5 387.04,219.63 388.12,219.74 389.2,219.84 390.28,219.93 391.36,220 392.44,220.07 393.52,220.13 394.6,220.18 395.68,220.23 396.76,220.26 397.83,220.3 398.91,220.33 399.99,220.35 401.07,220.37 402.15,220.39 403.23,220.4" fill="none" stroke="#8a8a20" stroke-width="0.75" stroke-linejoin="round"/>
<polyline points="291,220.31 292.08,220.28 293.16,220.24 294.24,220.2 295.32,220.15 296.4,220.09 297.47,220.03 298.55,219.95 299.63,219.87 300.71,219.76 301.79,219.62 302.87,219.4 303.95,219.03 305.03,218.36 306.11,217.13 307.19,215 308.27,211.55 309.35,206.45 310.42,199.67 311.5,191.66 312.58,183.44 313.66,176.43 314.74,172.03 315.82,170.95 316.9,171.88 317.98,174.28 319.06,177.71 320.14,181.67 321.22,185.59 322.29,189.03 323.37,191.65 324.45,193.27 325.53,193.89 326.61,193.62 327.69,192.65 328.77,191.22 329.85,189.59 330.93,187.99 332.01,186.61 333.09,185.6 334.17,185.07 335.24,185.04 336.32,185.54 337.4,186.5 338.48,187.87 339.56,189.55 340.64,191.44 341.72,193.43 342.8,195.42 343.88,197.35 344.96,199.15 346.04,200.78 347.12,202.22 348.19,203.48 349.27,204.57 350.35,205.5 351.43,206.3 352.51,206.98 353.59,207.56 354.67,208.03 355.75,208.39 356.83,208.65 357.91,208.83 358.99,209 360.06,209.24 361.14,209.64 362.22,210.22 363.3,210.97 364.38,211.8 365.46,212.63 366.54,213.39 367.62,214.06 368.7,214.64 369.78,215.15 370.86,215.6 371.94,216.02 373.01,216.42 374.09,216.79 375.17,217.13 376.25,217.46 377.33,217.76 378.41,218.04 379.49,218.3 380.57,218.54 381.65,218.76 382.73,218.96 383.81,219.14 384.88,219.3 385.96,219.45 387.04,219.58 388.12,219.7 389.2,219.8 390.28,219.9 391.36,219.98 392.44,220.05 393.52,220.11 394.6,220.16 395.68,220.21 396.76,220.25 397.83,220.29 398.91,220.32 399.99,220.34 401.07,220.36 402.15,220.38 403.23,220.4" fill="none" stroke="#20a050" stroke-width="0.75" stroke-linejoin="round"/>
<polyline points="291,220.29 292.08,220.25 293.16,220.21 294.24,220.16 295.32,220.11 296.4,220.04 297.47,219.97 298.55,219.88 299.63,219.78 300.71,219.66 301.79,219.49 302.87,219.25 303.95,218.82 305.03,218.06 306.11,216.65 307.19,214.21 308.27,210.27 309.35,204.44 310.42,196.69 311.5,187.53 312.58,178.13 313.66,170.11 314.74,165.08 315.82,163.85 316.9,164.91 317.98,167.65 319.06,171.58 320.14,176.1 321.22,180.59 322.29,184.52 323.37,187.51 324.45,189.37 325.53,190.08 326.61,189.76 327.69,188.65 328.77,187.02 329.85,185.16 330.93,183.33 332.01,181.75 333.09,180.6 334.17,179.98 335.24,179.96 336.32,180.52 337.4,181.63 338.48,183.2 339.56,185.12 340.64,187.27 341.72,189.54 342.8,191.83 343.88,194.03 344.96,196.08 346.04,197.95 347.12,199.6 348.19,201.04 349.27,202.29 350.35,203.35 351.43,204.26 352.51,205.04 353.59,205.7 354.67,206.24 355.75,206.66 356.83,206.96 357.91,207.16 358.99,207.36 360.06,207.63 361.14,208.08 362.22,208.75 363.3,209.6 364.38,210.55 365.46,211.5 366.54,212.38 367.62,213.14 368.7,213.8 369.78,214.38 370.86,214.9 371.94,215.39 373.01,215.84 374.09,216.26 375.17,216.65 376.25,217.03 377.33,217.37 378.41,217.69 379.49,217.99 380.57,218.26 381.65,218.51 382.73,218.74 383.81,218.95 384.88,219.14 385.96,219.3 387.04,219.45 388.12,219.59 389.2,219.71 390.28,219.81 391.36,219.91 392.44,219.99 393.52,220.06 394.6,220.12 395.68,220.17 396.76,220.22 397.83,220.26 398.91,220.3 399.99,220.32 401.07,220.35 402.15,220.37 403.23,220.39" fill="none" stroke="#5a40c0" stroke-width="0.75" stroke-linejoin="round"/>
<polyline points="291,220.27 292.08,220.23 293.16,220.19 294.24,220.14 295.32,220.08 296.4,220.01 297.47,219.93 298.55,219.83 299.63,219.73 300.71,219.59 301.79,219.42 302.87,219.15 303.95,218.69 305.03,217.86 306.11,216.35 307.19,213.72 308.27,209.46 309.35,203.18 310.42,194.81 311.5,184.93 312.58,174.79 313.66,166.13 314.74,160.71 315.82,159.38 316.9,160.52 317.98,163.48 319.06,167.72 320.14,172.59 321.22,177.44 322.29,181.68 323.37,184.91 324.45,186.91 325.53,187.68 326.61,187.34 327.69,186.14 328.77,184.38 329.85,182.37 330.93,180.4 332.01,178.69 333.09,177.45 334.17,176.79 335.24,176.76 336.32,177.37 337.4,178.56 338.48,180.25 339.56,182.32 340.64,184.65 341.72,187.1 342.8,189.57 343.88,191.94 344.96,194.16 346.04,196.17 347.12,197.95 348.19,199.51 349.27,200.85 350.35,202 351.43,202.98 352.51,203.83 353.59,204.54 354.67,205.12 355.75,205.57 356.83,205.89 357.91,206.11 358.99,206.32 360.06,206.62 361.14,207.11 362.22,207.83 363.3,208.75 364.38,209.77 365.46,210.8 366.54,211.74 367.62,212.56 368.7,213.28 369.78,213.9 370.86,214.47 371.94,214.98 373.01,215.47 374.09,215.92 375.17,216.35 376.25,216.75 377.33,217.13 378.41,217.47 379.49,217.8 380.57,218.09 381.65,218.36 382.73,218.61 383.81,218.83 384.88,219.03 385.96,219.21 387.04,219.37 388.12,219.52 389.2,219.65 390.28,219.76 391.36,219.86 392.44,219.95 393.52,220.03 394.6,220.09 395.68,220.15 396.76,220.2 397.83,220.24 398.91,220.28 399.99,220.31 401.07,220.34 402.15,220.36 403.23,220.38" fill="none" stroke="#3048b0" stroke-width="0.75" stroke-linejoin="round"/>
<polyline points="291,220.26 292.08,220.22 293.16,220.18 294.24,220.12 295.32,220.06 296.4,219.99 297.47,219.9 298.55,219.81 299.63,219.69 300.71,219.56 301.79,219.37 302.87,219.09 303.95,218.62 305.03,217.75 306.11,216.18 307.19,213.43 308.27,208.99 309.35,202.43 310.42,193.7 311.5,183.39 312.58,172.81 313.66,163.79 314.74,158.13 315.82,156.74 316.9,157.94 317.98,161.02 319.06,165.44 320.14,170.53 321.22,175.58 322.29,180 323.37,183.37 324.45,185.47 325.53,186.26 326.61,185.91 327.69,184.66 328.77,182.83 329.85,180.73 330.93,178.67 332.01,176.89 333.09,175.59 334.17,174.9 335.24,174.87 336.32,175.51 337.4,176.75 338.48,178.52 339.56,180.68 340.64,183.11 341.72,185.66 342.8,188.23 343.88,190.71 344.96,193.02 346.04,195.12 347.12,196.98 348.19,198.61 349.27,200 350.35,201.2 351.43,202.23 352.51,203.11 353.59,203.85 354.67,204.46 355.75,204.93 356.83,205.26 357.91,205.49 358.99,205.71 360.06,206.02 361.14,206.53 362.22,207.28 363.3,208.24 364.38,209.31 365.46,210.38 366.54,211.36 367.62,212.22 368.7,212.97 369.78,213.62 370.86,214.21 371.94,214.75 373.01,215.25 374.09,215.73 375.17,216.18 376.25,216.59 377.33,216.98 378.41,217.35 379.49,217.68 380.57,217.99 381.65,218.27 382.73,218.53 383.81,218.76 384.88,218.97 385.96,219.16 387.04,219.33 388.12,219.48 389.2,219.61 390.28,219.73 391.36,219.84 392.44,219.93 393.52,220.01 394.6,220.08 395.68,220.14 396.76,220.19 397.83,220.23 398.91,220.27 399.99,220.31 401.07,220.33 402.15,220.36 403.23,220.38" fill="none" stroke="#8a30c0" stroke-width="0.75" stroke-linejoin="round"/>
<polyline points="291,220.25 292.08,220.21 293.16,220.16 294.24,220.11 295.32,220.04 296.4,219.97 297.47,219.88 298.55,219.78 299.63,219.66 300.71,219.52 301.79,219.33 302.87,219.03 303.95,218.54 305.03,217.64 306.11,216 307.19,213.14 308.27,208.51 309.35,201.68 310.42,192.6 311.5,181.86 312.58,170.84 313.66,161.44 314.74,155.55 315.82,154.1 316.9,155.35 317.98,158.56 319.06,163.17 320.14,168.46 321.22,173.72 322.29,178.33 323.37,181.84 324.45,184.02 325.53,184.85 326.61,184.48 327.69,183.18 328.77,181.27 329.85,179.08 330.93,176.94 332.01,175.09 333.09,173.74 334.17,173.02 335.24,172.99 336.32,173.65 337.4,174.95 338.48,176.78 339.56,179.03 340.64,181.56 341.72,184.22 342.8,186.9 343.88,189.48 344.96,191.89 346.04,194.07 347.12,196.01 348.19,197.7 349.27,199.16 350.35,200.4 351.43,201.47 352.51,202.39 353.59,203.16 354.67,203.8 355.75,204.28 356.83,204.63 357.91,204.87 358.99,205.1 360.06,205.42 361.14,205.95 362.22,206.74 363.3,207.73 364.38,208.85 365.46,209.96 366.54,210.98 367.62,211.88 368.7,212.66 369.78,213.34 370.86,213.95 371.94,214.51 373.01,215.04 374.09,215.53 375.17,216 376.25,216.43 377.33,216.84 378.41,217.22 379.49,217.56 380.57,217.88 381.65,218.18 382.73,218.44 383.81,218.69 384.88,218.91 385.96,219.1 387.04,219.28 388.12,219.44 389.2,219.58 390.28,219.7 391.36,219.81 392.44,219.9 393.52,219.99 394.6,220.06 395.68,220.12 396.76,220.18 397.83,220.22 398.91,220.26 399.99,220.3 401.07,220.33 402.15,220.35 403.23,220.37" fill="none" stroke="#a030a0" stroke-width="0.75" stroke-linejoin="round"/>
<polyline points="291,220.25 292.08,220.2 293.16,220.15 294.24,220.1 295.32,220.03 296.4,219.95 297.47,219.86 298.55,219.76 299.63,219.63 300.71,219.49 301.79,219.29 302.87,218.99 303.95,218.48 305.03,217.55 306.11,215.85 307.19,212.9 308.27,208.12 309.35,201.07 310.42,191.68 311.5,180.59 312.58,169.21 313.66,159.51 314.74,153.42 315.82,151.93 316.9,153.21 317.98,156.53 319.06,161.28 320.14,166.75 321.22,172.19 322.29,176.95 323.37,180.57 324.45,182.82 325.53,183.68 326.61,183.3 327.69,181.96 328.77,179.98 329.85,177.73 330.93,175.51 332.01,173.6 333.09,172.21 334.17,171.46 335.24,171.43 336.32,172.11 337.4,173.45 338.48,175.35 339.56,177.67 340.64,180.28 341.72,183.03 342.8,185.8 343.88,188.46 344.96,190.95 346.04,193.21 347.12,195.21 348.19,196.95 349.27,198.46 350.35,199.75 351.43,200.85 352.51,201.8 353.59,202.6 354.67,203.25 355.75,203.75 356.83,204.11 357.91,204.36 358.99,204.59 360.06,204.93 361.14,205.48 362.22,206.28 363.3,207.32 364.38,208.47 365.46,209.62 366.54,210.67 367.62,211.6 368.7,212.4 369.78,213.1 370.86,213.73 371.94,214.31 373.01,214.86 374.09,215.37 375.17,215.85 376.25,216.3 377.33,216.72 378.41,217.11 379.49,217.47 380.57,217.8 381.65,218.1 382.73,218.38 383.81,218.63 384.88,218.85 385.96,219.06 387.04,219.24 388.12,219.4 389.2,219.55 390.28,219.68 391.36,219.79 392.44,219.89 393.52,219.97 394.6,220.05 395.68,220.11 396.76,220.17 397.83,220.22 398.91,220.26 399.99,220.29 401.07,220.32 402.15,220.35 403.23,220.37" fill="none" stroke="#d030a0" stroke-width="0.75" stroke-linejoin="round"/>
<polyline points="291,220.24 292.08,220.2 293.16,220.15 294.24,220.09 295.32,220.02 296.4,219.94 297.47,219.84 298.55,219.74 299.63,219.61 300.71,219.46 301.79,219.26 302.87,218.95 303.95,218.42 305.03,217.47 306.11,215.73 307.19,212.69 308.27,207.79 309.35,200.55 310.42,190.91 311.5,179.53 312.58,167.84 313.66,157.88 314.74,151.63 315.82,150.09 316.9,151.41 317.98,154.82 319.06,159.7 320.14,165.32 321.22,170.9 322.29,175.78 323.37,179.5 324.45,181.81 325.53,182.7 326.61,182.31 327.69,180.93 328.77,178.9 329.85,176.58 330.93,174.3 332.01,172.35 333.09,170.91 334.17,170.15 335.24,170.12 336.32,170.82 337.4,172.19 338.48,174.14 339.56,176.53 340.64,179.21 341.72,182.03 342.8,184.87 343.88,187.61 344.96,190.16 346.04,192.48 347.12,194.53 348.19,196.32 349.27,197.87 350.35,199.19 351.43,200.33 352.51,201.3 353.59,202.12 354.67,202.79 355.75,203.31 356.83,203.67 357.91,203.93 358.99,204.17 360.06,204.51 361.14,205.08 362.22,205.9 363.3,206.96 364.38,208.15 365.46,209.33 366.54,210.41 367.62,211.36 368.7,212.18 369.78,212.9 370.86,213.55 371.94,214.15 373.01,214.71 374.09,215.23 375.17,215.73 376.25,216.19 377.33,216.62 378.41,217.02 379.49,217.39 380.57,217.73 381.65,218.04 382.73,218.32 383.81,218.58 384.88,218.81 385.96,219.02 387.04,219.21 388.12,219.37 389.2,219.52 390.28,219.65 391.36,219.77 392.44,219.87 393.52,219.96 394.6,220.04 395.68,220.1 396.76,220.16 397.83,220.21 398.91,220.25 399.99,220.29 401.07,220.32 402.15,220.35 403.23,220.37" fill="none" stroke="#b03030" stroke-width="0.75" stroke-linejoin="round"/>
<polyline points="291,220.23 292.08,220.19 293.16,220.14 294.24,220.07 295.32,220 296.4,219.92 297.47,219.82 298.55,219.71 299.63,219.58 300.71,219.43 301.79,219.22 302.87,218.9 303.95,218.36 305.03,217.37 306.11,215.57 307.19,212.44 308.27,207.38 309.35,199.9 310.42,189.95 311.5,178.19 312.58,166.13 313.66,155.84 314.74,149.38 315.82,147.8 316.9,149.16 317.98,152.68 319.06,157.72 320.14,163.52 321.22,169.28 322.29,174.33 323.37,178.17 324.45,180.56 325.53,181.47 326.61,181.06 327.69,179.64 328.77,177.54 329.85,175.15 330.93,172.8 332.01,170.78 333.09,169.3 334.17,168.51 335.24,168.48 336.32,169.2 337.4,170.62 338.48,172.63 339.56,175.1 340.64,177.86 341.72,180.78 342.8,183.71 343.88,186.54 344.96,189.17 346.04,191.57 347.12,193.69 348.19,195.54 349.27,197.13 350.35,198.5 351.43,199.67 352.51,200.67 353.59,201.52 354.67,202.21 355.75,202.75 356.83,203.13 357.91,203.39 358.99,203.64 360.06,203.99 361.14,204.57 362.22,205.43 363.3,206.52 364.38,207.74 365.46,208.96 366.54,210.08 367.62,211.07 368.7,211.91 369.78,212.66 370.86,213.33 371.94,213.94 373.01,214.52 374.09,215.06 375.17,215.57 376.25,216.05 377.33,216.49 378.41,216.91 379.49,217.29 380.57,217.64 381.65,217.96 382.73,218.25 383.81,218.52 384.88,218.76 385.96,218.97 387.04,219.17 388.12,219.34 389.2,219.49 390.28,219.63 391.36,219.75 392.44,219.85 393.52,219.94 394.6,220.02 395.68,220.09 396.76,220.15 397.83,220.2 398.91,220.25 399.99,220.28 401.07,220.31 402.15,220.34 403.23,220.36" fill="none" stroke="#108888" stroke-width="1.15" stroke-linejoin="round"/>
</g>
<rect x="293.1" y="142.2" width="111.5" height="80.7" fill="none" stroke="#151515" stroke-width="0.95"/>
<line x1="291.1" y1="152.1" x2="293.1" y2="152.1" stroke="#222" stroke-width="0.7" stroke-linecap="butt"/>
<text x="290.3" y="153.9" font-family="Liberation Sans, Arial, sans-serif" font-size="5.2" font-weight="bold" text-anchor="end" fill="#111" stroke="#111" stroke-width="0.22">600</text>
<line x1="291.1" y1="169.3" x2="293.1" y2="169.3" stroke="#222" stroke-width="0.7" stroke-linecap="butt"/>
<text x="290.3" y="171.1" font-family="Liberation Sans, Arial, sans-serif" font-size="5.2" font-weight="bold" text-anchor="end" fill="#111" stroke="#111" stroke-width="0.22">450</text>
<line x1="291.1" y1="186.5" x2="293.1" y2="186.5" stroke="#222" stroke-width="0.7" stroke-linecap="butt"/>
<text x="290.3" y="188.3" font-family="Liberation Sans, Arial, sans-serif" font-size="5.2" font-weight="bold" text-anchor="end" fill="#111" stroke="#111" stroke-width="0.22">300</text>
<line x1="291.1" y1="203.7" x2="293.1" y2="203.7" stroke="#222" stroke-width="0.7" stroke-linecap="butt"/>
<text x="290.3" y="205.5" font-family="Liberation Sans, Arial, sans-serif" font-size="5.2" font-weight="bold" text-anchor="end" fill="#111" stroke="#111" stroke-width="0.22">150</text>
<line x1="291.1" y1="220.9" x2="293.1" y2="220.9" stroke="#222" stroke-width="0.7" stroke-linecap="butt"/>
<text x="290.3" y="222.7" font-family="Liberation Sans, Arial, sans-serif" font-size="5.2" font-weight="bold" text-anchor="end" fill="#111" stroke="#111" stroke-width="0.22">0</text>
<line x1="292" y1="143.5" x2="293.1" y2="143.5" stroke="#222" stroke-width="0.6" stroke-linecap="butt"/>
<line x1="292" y1="160.7" x2="293.1" y2="160.7" stroke="#222" stroke-width="0.6" stroke-linecap="butt"/>
<line x1="292" y1="177.9" x2="293.1" y2="177.9" stroke="#222" stroke-width="0.6" stroke-linecap="butt"/>
<line x1="292" y1="195.1" x2="293.1" y2="195.1" stroke="#222" stroke-width="0.6" stroke-linecap="butt"/>
<line x1="292" y1="212.3" x2="293.1" y2="212.3" stroke="#222" stroke-width="0.6" stroke-linecap="butt"/>
<line x1="306.05" y1="222.9" x2="306.05" y2="224.9" stroke="#222" stroke-width="0.7" stroke-linecap="butt"/>
<text x="306.25" y="230.5" font-family="Liberation Sans, Arial, sans-serif" font-size="5.2" font-weight="bold" text-anchor="middle" fill="#111" stroke="#111" stroke-width="0.22">550</text>
<line x1="327.55" y1="222.9" x2="327.55" y2="224.9" stroke="#222" stroke-width="0.7" stroke-linecap="butt"/>
<text x="327.75" y="230.5" font-family="Liberation Sans, Arial, sans-serif" font-size="5.2" font-weight="bold" text-anchor="middle" fill="#111" stroke="#111" stroke-width="0.22">600</text>
<line x1="349.05" y1="222.9" x2="349.05" y2="224.9" stroke="#222" stroke-width="0.7" stroke-linecap="butt"/>
<text x="349.25" y="230.5" font-family="Liberation Sans, Arial, sans-serif" font-size="5.2" font-weight="bold" text-anchor="middle" fill="#111" stroke="#111" stroke-width="0.22">650</text>
<line x1="370.55" y1="222.9" x2="370.55" y2="224.9" stroke="#222" stroke-width="0.7" stroke-linecap="butt"/>
<text x="370.75" y="230.5" font-family="Liberation Sans, Arial, sans-serif" font-size="5.2" font-weight="bold" text-anchor="middle" fill="#111" stroke="#111" stroke-width="0.22">700</text>
<line x1="392.05" y1="222.9" x2="392.05" y2="224.9" stroke="#222" stroke-width="0.7" stroke-linecap="butt"/>
<text x="392.25" y="230.5" font-family="Liberation Sans, Arial, sans-serif" font-size="5.2" font-weight="bold" text-anchor="middle" fill="#111" stroke="#111" stroke-width="0.22">750</text>
<line x1="295.3" y1="222.9" x2="295.3" y2="224" stroke="#222" stroke-width="0.6" stroke-linecap="butt"/>
<line x1="316.8" y1="222.9" x2="316.8" y2="224" stroke="#222" stroke-width="0.6" stroke-linecap="butt"/>
<line x1="338.3" y1="222.9" x2="338.3" y2="224" stroke="#222" stroke-width="0.6" stroke-linecap="butt"/>
<line x1="359.8" y1="222.9" x2="359.8" y2="224" stroke="#222" stroke-width="0.6" stroke-linecap="butt"/>
<line x1="381.3" y1="222.9" x2="381.3" y2="224" stroke="#222" stroke-width="0.6" stroke-linecap="butt"/>
<text x="278.8" y="184" font-family="Liberation Sans, Arial, sans-serif" font-size="5.2" font-weight="bold" text-anchor="middle" fill="#111" transform="rotate(-90 278.8 184)" textLength="47" lengthAdjust="spacingAndGlyphs" stroke="#111" stroke-width="0.22">PL Intensity (a.u.)</text>
<text x="349.3" y="239.6" font-family="Liberation Sans, Arial, sans-serif" font-size="5.4" font-weight="bold" text-anchor="middle" fill="#111" textLength="43.5" lengthAdjust="spacingAndGlyphs" stroke="#111" stroke-width="0.22">Wavelength (nm)</text>
<text x="294.7" y="155.3" font-family="Liberation Serif, Times New Roman, serif" font-size="14.6" font-weight="bold" text-anchor="start" fill="#000" letter-spacing="0.6" stroke="#000" stroke-width="0.3">e)</text>
<text x="354.7" y="172.1" font-family="Liberation Sans, Arial, sans-serif" font-size="5.3" font-weight="bold" text-anchor="middle" fill="#1f9a3a" stroke="#1f9a3a" stroke-width="0.22">84-fold</text>
<line x1="353.7" y1="177.5" x2="353.7" y2="190" stroke="#2aa040" stroke-width="0.9" stroke-dasharray="0.7,0.4" stroke-linecap="butt"/>
<polygon points="353.7,173.9 352.4,177.6 355,177.6" fill="#1f9a3a" stroke="none" stroke-width="0" stroke-linejoin="round"/>
<text x="390.8" y="184.6" font-family="Liberation Sans, Arial, sans-serif" font-size="5.4" font-weight="bold" text-anchor="middle" fill="#111" stroke="#111" stroke-width="0.22">10 min</text>
<text x="390.2" y="209.9" font-family="Liberation Sans, Arial, sans-serif" font-size="5.4" font-weight="bold" text-anchor="middle" fill="#111" stroke="#111" stroke-width="0.22">0 min</text>
<line x1="390.6" y1="192.2" x2="390.6" y2="203.8" stroke="#111" stroke-width="0.7" stroke-linecap="butt"/>
<polygon points="390.6,189.8 389.4,192.9 391.8,192.9" fill="#111" stroke="none" stroke-width="0" stroke-linejoin="round"/>
<clipPath id="cpf"><rect x="433.5" y="141.8" width="110.7" height="80.8"/></clipPath>
<g clip-path="url(#cpf)">
<polyline points="436.7,221.4 436.7,210.07 438,205.17 439.29,200.65 440.59,196.48 441.88,192.58 443.18,189.01 444.48,185.66 445.77,182.48 447.07,179.6 448.36,177.15 449.66,175.09 450.96,173.25 452.25,171.59 453.55,170.06 454.84,168.62 456.14,167.26 457.44,165.99 458.73,164.79 460.03,163.66 461.32,162.56 462.62,161.48 463.92,160.41 465.21,159.35 466.51,158.34 467.8,157.4 469.1,156.54 470.4,155.78 471.69,155.07 472.99,154.42 474.28,153.81 475.58,153.25 476.88,152.72 478.17,152.24 479.47,151.77 480.76,151.34 482.06,150.95 483.36,150.59 484.65,150.27 485.95,149.98 487.24,149.72 488.54,149.48 489.84,149.24 491.13,149.01 492.43,148.76 493.72,148.52 495.02,148.27 496.32,148.03 497.61,147.8 498.91,147.59 500.2,147.4 501.5,147.24 502.8,147.1 504.09,146.97 505.39,146.84 506.68,146.73 507.98,146.62 509.28,146.52 510.57,146.43 511.87,146.34 513.16,146.26 514.46,146.18 515.76,146.1 517.05,146.03 518.35,145.96 519.64,145.89 520.94,145.83 522.24,145.77 523.53,145.71 524.83,145.66 526.12,145.6 527.42,145.55 528.72,145.49 530.01,145.44 531.31,145.39 532.6,145.33 533.9,145.28 535.2,145.23 536.49,145.18 537.79,145.14 539.08,145.09 540.38,145.04 541.68,145 542.97,144.96" fill="none" stroke="#111" stroke-width="1" stroke-linejoin="round"/>
<circle cx="443.18" cy="189.01" r="0.85" fill="#111"/>
<circle cx="449.66" cy="175.09" r="0.85" fill="#111"/>
<circle cx="456.14" cy="167.26" r="0.85" fill="#111"/>
<circle cx="462.62" cy="161.48" r="0.85" fill="#111"/>
<circle cx="469.1" cy="156.54" r="0.85" fill="#111"/>
<circle cx="475.58" cy="153.25" r="0.85" fill="#111"/>
<circle cx="482.06" cy="150.95" r="0.85" fill="#111"/>
<circle cx="488.54" cy="149.48" r="0.85" fill="#111"/>
<circle cx="495.02" cy="148.27" r="0.85" fill="#111"/>
<circle cx="501.5" cy="147.24" r="0.85" fill="#f020c0"/>
<circle cx="507.98" cy="146.62" r="0.85" fill="#111"/>
<circle cx="514.46" cy="146.18" r="0.85" fill="#111"/>
<circle cx="520.94" cy="145.83" r="0.85" fill="#111"/>
<circle cx="527.42" cy="145.55" r="0.85" fill="#111"/>
<circle cx="533.9" cy="145.28" r="0.85" fill="#111"/>
<circle cx="540.38" cy="145.04" r="0.85" fill="#111"/>
<line x1="436.7" y1="220.9" x2="543.62" y2="220.9" stroke="#e82020" stroke-width="0.6" stroke-linecap="butt"/>
<line x1="436.7" y1="221" x2="543.62" y2="221" stroke="#4a68d0" stroke-width="1" stroke-linecap="butt"/>
<line x1="436.7" y1="220.6" x2="543.62" y2="220.6" stroke="#2a9a4a" stroke-width="0.7" stroke-linecap="butt"/>
<rect x="435.6" y="219.85" width="2.3" height="1.5" fill="#17863a" stroke="none" stroke-width="1"/>
<rect x="439.8" y="219.85" width="2.3" height="1.5" fill="#17863a" stroke="none" stroke-width="1"/>
<rect x="444" y="219.85" width="2.3" height="1.5" fill="#17863a" stroke="none" stroke-width="1"/>
<rect x="448.2" y="219.85" width="2.3" height="1.5" fill="#17863a" stroke="none" stroke-width="1"/>
<rect x="452.4" y="219.85" width="2.3" height="1.5" fill="#17863a" stroke="none" stroke-width="1"/>
<rect x="456.6" y="219.85" width="2.3" height="1.5" fill="#17863a" stroke="none" stroke-width="1"/>
<rect x="460.8" y="219.85" width="2.3" height="1.5" fill="#17863a" stroke="none" stroke-width="1"/>
<rect x="465" y="219.85" width="2.3" height="1.5" fill="#17863a" stroke="none" stroke-width="1"/>
<rect x="469.2" y="219.85" width="2.3" height="1.5" fill="#17863a" stroke="none" stroke-width="1"/>
<rect x="473.4" y="219.85" width="2.3" height="1.5" fill="#17863a" stroke="none" stroke-width="1"/>
<rect x="477.6" y="219.85" width="2.3" height="1.5" fill="#17863a" stroke="none" stroke-width="1"/>
<rect x="481.8" y="219.85" width="2.3" height="1.5" fill="#17863a" stroke="none" stroke-width="1"/>
<rect x="486" y="219.85" width="2.3" height="1.5" fill="#17863a" stroke="none" stroke-width="1"/>
<rect x="490.2" y="219.85" width="2.3" height="1.5" fill="#17863a" stroke="none" stroke-width="1"/>
<rect x="494.4" y="219.85" width="2.3" height="1.5" fill="#17863a" stroke="none" stroke-width="1"/>
<rect x="498.6" y="219.85" width="2.3" height="1.5" fill="#17863a" stroke="none" stroke-width="1"/>
<rect x="502.8" y="219.85" width="2.3" height="1.5" fill="#17863a" stroke="none" stroke-width="1"/>
<rect x="507" y="219.85" width="2.3" height="1.5" fill="#17863a" stroke="none" stroke-width="1"/>
<rect x="511.2" y="219.85" width="2.3" height="1.5" fill="#17863a" stroke="none" stroke-width="1"/>
<rect x="515.4" y="219.85" width="2.3" height="1.5" fill="#17863a" stroke="none" stroke-width="1"/>
<rect x="519.6" y="219.85" width="2.3" height="1.5" fill="#17863a" stroke="none" stroke-width="1"/>
<rect x="523.8" y="219.85" width="2.3" height="1.5" fill="#17863a" stroke="none" stroke-width="1"/>
<rect x="528" y="219.85" width="2.3" height="1.5" fill="#17863a" stroke="none" stroke-width="1"/>
<rect x="532.2" y="219.85" width="2.3" height="1.5" fill="#17863a" stroke="none" stroke-width="1"/>
<rect x="536.4" y="219.85" width="2.3" height="1.5" fill="#17863a" stroke="none" stroke-width="1"/>
<rect x="540.6" y="219.85" width="2.3" height="1.5" fill="#17863a" stroke="none" stroke-width="1"/>
</g>
<rect x="433.5" y="141.8" width="110.7" height="80.8" fill="none" stroke="#151515" stroke-width="0.95"/>
<line x1="431.5" y1="150.6" x2="433.5" y2="150.6" stroke="#222" stroke-width="0.7" stroke-linecap="butt"/>
<text x="430.9" y="152.4" font-family="Liberation Sans, Arial, sans-serif" font-size="5.2" font-weight="bold" text-anchor="end" fill="#111" stroke="#111" stroke-width="0.22">400</text>
<line x1="431.5" y1="168.3" x2="433.5" y2="168.3" stroke="#222" stroke-width="0.7" stroke-linecap="butt"/>
<text x="430.9" y="170.1" font-family="Liberation Sans, Arial, sans-serif" font-size="5.2" font-weight="bold" text-anchor="end" fill="#111" stroke="#111" stroke-width="0.22">300</text>
<line x1="431.5" y1="186" x2="433.5" y2="186" stroke="#222" stroke-width="0.7" stroke-linecap="butt"/>
<text x="430.9" y="187.8" font-family="Liberation Sans, Arial, sans-serif" font-size="5.2" font-weight="bold" text-anchor="end" fill="#111" stroke="#111" stroke-width="0.22">200</text>
<line x1="431.5" y1="203.7" x2="433.5" y2="203.7" stroke="#222" stroke-width="0.7" stroke-linecap="butt"/>
<text x="430.9" y="205.5" font-family="Liberation Sans, Arial, sans-serif" font-size="5.2" font-weight="bold" text-anchor="end" fill="#111" stroke="#111" stroke-width="0.22">100</text>
<line x1="431.5" y1="221.4" x2="433.5" y2="221.4" stroke="#222" stroke-width="0.7" stroke-linecap="butt"/>
<text x="430.9" y="223.2" font-family="Liberation Sans, Arial, sans-serif" font-size="5.2" font-weight="bold" text-anchor="end" fill="#111" stroke="#111" stroke-width="0.22">0</text>
<line x1="432.4" y1="159.45" x2="433.5" y2="159.45" stroke="#222" stroke-width="0.6" stroke-linecap="butt"/>
<line x1="432.4" y1="177.15" x2="433.5" y2="177.15" stroke="#222" stroke-width="0.6" stroke-linecap="butt"/>
<line x1="432.4" y1="194.85" x2="433.5" y2="194.85" stroke="#222" stroke-width="0.6" stroke-linecap="butt"/>
<line x1="432.4" y1="212.55" x2="433.5" y2="212.55" stroke="#222" stroke-width="0.6" stroke-linecap="butt"/>
<line x1="436.7" y1="222.6" x2="436.7" y2="224.6" stroke="#222" stroke-width="0.7" stroke-linecap="butt"/>
<text x="436.7" y="230" font-family="Liberation Sans, Arial, sans-serif" font-size="5.2" font-weight="bold" text-anchor="middle" fill="#111" stroke="#111" stroke-width="0.22">0</text>
<line x1="449.66" y1="222.6" x2="449.66" y2="224.6" stroke="#222" stroke-width="0.7" stroke-linecap="butt"/>
<text x="449.66" y="230" font-family="Liberation Sans, Arial, sans-serif" font-size="5.2" font-weight="bold" text-anchor="middle" fill="#111" stroke="#111" stroke-width="0.22">2</text>
<line x1="462.62" y1="222.6" x2="462.62" y2="224.6" stroke="#222" stroke-width="0.7" stroke-linecap="butt"/>
<text x="462.62" y="230" font-family="Liberation Sans, Arial, sans-serif" font-size="5.2" font-weight="bold" text-anchor="middle" fill="#111" stroke="#111" stroke-width="0.22">4</text>
<line x1="475.58" y1="222.6" x2="475.58" y2="224.6" stroke="#222" stroke-width="0.7" stroke-linecap="butt"/>
<text x="475.58" y="230" font-family="Liberation Sans, Arial, sans-serif" font-size="5.2" font-weight="bold" text-anchor="middle" fill="#111" stroke="#111" stroke-width="0.22">6</text>
<line x1="488.54" y1="222.6" x2="488.54" y2="224.6" stroke="#222" stroke-width="0.7" stroke-linecap="butt"/>
<text x="488.54" y="230" font-family="Liberation Sans, Arial, sans-serif" font-size="5.2" font-weight="bold" text-anchor="middle" fill="#111" stroke="#111" stroke-width="0.22">8</text>
<line x1="501.5" y1="222.6" x2="501.5" y2="224.6" stroke="#222" stroke-width="0.7" stroke-linecap="butt"/>
<text x="501.5" y="230" font-family="Liberation Sans, Arial, sans-serif" font-size="5.2" font-weight="bold" text-anchor="middle" fill="#111" stroke="#111" stroke-width="0.22">10</text>
<line x1="514.46" y1="222.6" x2="514.46" y2="224.6" stroke="#222" stroke-width="0.7" stroke-linecap="butt"/>
<text x="514.46" y="230" font-family="Liberation Sans, Arial, sans-serif" font-size="5.2" font-weight="bold" text-anchor="middle" fill="#111" stroke="#111" stroke-width="0.22">12</text>
<line x1="527.42" y1="222.6" x2="527.42" y2="224.6" stroke="#222" stroke-width="0.7" stroke-linecap="butt"/>
<text x="527.42" y="230" font-family="Liberation Sans, Arial, sans-serif" font-size="5.2" font-weight="bold" text-anchor="middle" fill="#111" stroke="#111" stroke-width="0.22">14</text>
<line x1="540.38" y1="222.6" x2="540.38" y2="224.6" stroke="#222" stroke-width="0.7" stroke-linecap="butt"/>
<text x="540.38" y="230" font-family="Liberation Sans, Arial, sans-serif" font-size="5.2" font-weight="bold" text-anchor="middle" fill="#111" stroke="#111" stroke-width="0.22">16</text>
<line x1="443.18" y1="222.6" x2="443.18" y2="223.7" stroke="#222" stroke-width="0.6" stroke-linecap="butt"/>
<line x1="456.14" y1="222.6" x2="456.14" y2="223.7" stroke="#222" stroke-width="0.6" stroke-linecap="butt"/>
<line x1="469.1" y1="222.6" x2="469.1" y2="223.7" stroke="#222" stroke-width="0.6" stroke-linecap="butt"/>
<line x1="482.06" y1="222.6" x2="482.06" y2="223.7" stroke="#222" stroke-width="0.6" stroke-linecap="butt"/>
<line x1="495.02" y1="222.6" x2="495.02" y2="223.7" stroke="#222" stroke-width="0.6" stroke-linecap="butt"/>
<line x1="507.98" y1="222.6" x2="507.98" y2="223.7" stroke="#222" stroke-width="0.6" stroke-linecap="butt"/>
<line x1="520.94" y1="222.6" x2="520.94" y2="223.7" stroke="#222" stroke-width="0.6" stroke-linecap="butt"/>
<line x1="533.9" y1="222.6" x2="533.9" y2="223.7" stroke="#222" stroke-width="0.6" stroke-linecap="butt"/>
<text x="418.2" y="183" font-family="Liberation Sans, Arial, sans-serif" font-size="5.2" font-weight="bold" text-anchor="middle" fill="#111" transform="rotate(-90 418.2 183)" textLength="74" lengthAdjust="spacingAndGlyphs" stroke="#111" stroke-width="0.22">PL Intensity at 573 nm (a.u.)</text>
<text x="489.7" y="239.6" font-family="Liberation Sans, Arial, sans-serif" font-size="5.4" font-weight="bold" text-anchor="middle" fill="#111" textLength="26.6" lengthAdjust="spacingAndGlyphs" stroke="#111" stroke-width="0.22">Time (min)</text>
<text x="435.6" y="155.3" font-family="Liberation Serif, Times New Roman, serif" font-size="14.6" font-weight="bold" text-anchor="start" fill="#000" letter-spacing="0.6" stroke="#000" stroke-width="0.3">f)</text>
<text x="502.6" y="155.6" font-family="Liberation Sans, Arial, sans-serif" font-size="5" font-weight="bold" text-anchor="middle" fill="#111" stroke="#111" stroke-width="0.22">97%</text>
<line x1="485.5" y1="172.1" x2="495.6" y2="172.1" stroke="#111" stroke-width="0.8" stroke-linecap="butt"/>
<circle cx="490.5" cy="172.1" r="0.9" fill="#111"/>
<text x="497" y="174" font-family="Liberation Sans, Arial, sans-serif" font-size="5.35" font-weight="bold" text-anchor="start" fill="#111" stroke="#111" stroke-width="0.22">25 µM thiophenol</text>
<line x1="485.5" y1="178.9" x2="495.6" y2="178.9" stroke="#e82020" stroke-width="0.8" stroke-linecap="butt"/>
<circle cx="490.5" cy="178.9" r="0.9" fill="#e82020"/>
<text x="497" y="180.8" font-family="Liberation Sans, Arial, sans-serif" font-size="5.35" font-weight="bold" text-anchor="start" fill="#111" stroke="#111" stroke-width="0.22">100 µM Cys</text>
<line x1="485.5" y1="185.6" x2="495.6" y2="185.6" stroke="#3040d0" stroke-width="0.8" stroke-linecap="butt"/>
<circle cx="490.5" cy="185.6" r="0.9" fill="#3040d0"/>
<text x="497" y="187.5" font-family="Liberation Sans, Arial, sans-serif" font-size="5.35" font-weight="bold" text-anchor="start" fill="#111" stroke="#111" stroke-width="0.22">100 µM Hcy</text>
<line x1="485.5" y1="192.3" x2="495.6" y2="192.3" stroke="#1e9a40" stroke-width="0.8" stroke-linecap="butt"/>
<circle cx="490.5" cy="192.3" r="0.9" fill="#1e9a40"/>
<text x="497" y="194.2" font-family="Liberation Sans, Arial, sans-serif" font-size="5.35" font-weight="bold" text-anchor="start" fill="#111" stroke="#111" stroke-width="0.22">100 µM GSH</text></svg></body></html>
